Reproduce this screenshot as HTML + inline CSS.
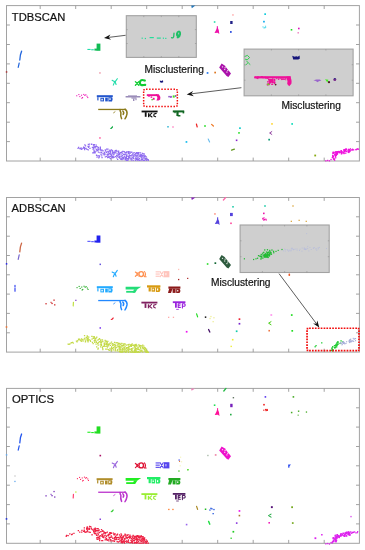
<!DOCTYPE html>
<html><head><meta charset="utf-8"><title>Clustering comparison</title>
<style>html,body{margin:0;padding:0;background:#fff}body{width:365px;height:550px;overflow:hidden}svg{display:block}text{font-family:"Liberation Sans",sans-serif;fill:#111;stroke:#111;stroke-width:.2px}</style>
</head><body>
<svg width="365" height="550" viewBox="0 0 365 550">
<rect width="365" height="550" fill="#fff"/>
<rect x="6.5" y="5.6" width="352.9" height="155.4" fill="#fff" stroke="#a2a2a2" stroke-width="1"/>
<path d="M40.2 5.6v3.4M40.2 161v-3.4M75.7 5.6v3.4M75.7 161v-3.4M111.2 5.6v3.4M111.2 161v-3.4M146.7 5.6v3.4M146.7 161v-3.4M182.2 5.6v3.4M182.2 161v-3.4M217.7 5.6v3.4M217.7 161v-3.4M253.2 5.6v3.4M253.2 161v-3.4M288.7 5.6v3.4M288.7 161v-3.4M324.2 5.6v3.4M324.2 161v-3.4M6.5 25h3.4M359.4 25h-3.4M6.5 44.5h3.4M359.4 44.5h-3.4M6.5 63.9h3.4M359.4 63.9h-3.4M6.5 83.3h3.4M359.4 83.3h-3.4M6.5 102.7h3.4M359.4 102.7h-3.4M6.5 122.2h3.4M359.4 122.2h-3.4M6.5 141.6h3.4M359.4 141.6h-3.4" stroke="#999" stroke-width="0.9" fill="none"/>
<path d="M21.6 51.2 L20.4 55 L19.8 60" fill="none" stroke="#2266dd" stroke-width="1.3" stroke-linecap="round" stroke-linejoin="round"/>
<path d="M19.2 63 L18.2 67.4" fill="none" stroke="#2266dd" stroke-width="1.2" stroke-linecap="round" stroke-linejoin="round"/>
<rect x="96.6" y="43.6" width="3.8" height="7.2" fill="#11bb55"/>
<rect x="94.4" y="48.6" width="2.6" height="2" fill="#11bb55"/>
<rect x="87.4" y="48.9" width="3.2" height="1.1" fill="#22ddaa"/>
<rect x="91.2" y="49.2" width="2.6" height="1.1" fill="#22ddaa"/>
<rect x="5.8" y="71.2" width="1.5" height="1.5" fill="#aa3333"/>
<rect x="99.2" y="72.2" width="1.5" height="1.5" fill="#ee99aa"/>
<path d="M112.1 80.3 L115.1 81.9 L117.3 78.7M113.3 85.1 L114.9 81.3 L116.1 84.5" fill="none" stroke="#22ddaa" stroke-width="1.1" stroke-linecap="round" stroke-linejoin="round"/>
<rect x="76.2" y="95.2" width="1.1" height="1.1" fill="#ee22bb"/>
<rect x="78.3" y="94" width="1.1" height="1.1" fill="#ee22bb"/>
<rect x="79.3" y="96" width="1.1" height="1.1" fill="#ee22bb"/>
<rect x="81" y="94.7" width="1.1" height="1.1" fill="#ee22bb"/>
<rect x="82" y="97" width="1.1" height="1.1" fill="#ee22bb"/>
<rect x="83.2" y="93.9" width="1.1" height="1.1" fill="#ee22bb"/>
<rect x="84.3" y="94.9" width="1.1" height="1.1" fill="#ee22bb"/>
<rect x="85.3" y="94.2" width="1.1" height="1.1" fill="#ee22bb"/>
<rect x="86.5" y="95.7" width="1.1" height="1.1" fill="#ee22bb"/>
<rect x="87.2" y="97" width="1.1" height="1.1" fill="#ee22bb"/>
<rect x="81.3" y="97.7" width="1.1" height="1.1" fill="#ee22bb"/>
<rect x="96.8" y="95.2" width="16" height="2" fill="#2255cc"/>
<rect x="97.3" y="97.2" width="1.2" height="3.2" fill="#2255cc"/>
<rect x="100.4" y="97.8" width="3.6" height="3.6" fill="#2255cc"/>
<rect x="101.4" y="98.8" width="1.4" height="1.6" fill="#fff"/>
<rect x="105.2" y="97.6" width="2.6" height="3.8" fill="#2255cc"/>
<path d="M108.4 97.2h3.6q1.6 2 0 4.2h-3.6z" fill="#2255cc"/>
<rect x="109.4" y="98.2" width="1.2" height="1.8" fill="#fff"/>
<rect x="125.6" y="96" width="14.8" height="1.5" fill="#9a8cb8"/>
<rect x="128" y="95.4" width="9" height="0.8" fill="#9a8cb8"/>
<rect x="131.4" y="97.4" width="5" height="1.2" fill="#9a8cb8"/>
<rect x="133" y="98.6" width="1.4" height="2.4" fill="#9a8cb8"/>
<rect x="135.4" y="98.4" width="1.2" height="1.8" fill="#9a8cb8"/>
<rect x="146.8" y="94.2" width="10.6" height="1.9" fill="#ee1199"/>
<path d="M155.6 94.2h3.2q2.2 2.4 1.4 5.2l-1.6 1.2h-2.2l0.8-1.8q0.6-1.6-0.6-2.8z" fill="#ee1199"/>
<rect x="150.6" y="96.4" width="1.6" height="1.4" fill="#ee1199"/>
<rect x="152.8" y="97.8" width="1.8" height="2" fill="#ee1199"/>
<rect x="148.4" y="96" width="1.2" height="1" fill="#ee1199"/>
<rect x="151.4" y="99" width="1.5" height="1.3" fill="#55cc22"/>
<rect x="168.2" y="95.9" width="3.8" height="1.5" fill="#9966cc"/>
<rect x="170" y="97" width="1.6" height="0.9" fill="#9966cc"/>
<rect x="172.7" y="95.4" width="2" height="2.2" fill="#44dd22"/>
<rect x="175" y="95.3" width="1.4" height="1.4" fill="#553388"/>
<path d="M135.4 81.6l3.4 3.6M135.4 85.2l3.4-3.6" fill="none" stroke="#11cc33" stroke-width="1.3" stroke-linecap="round" stroke-linejoin="round"/>
<path d="M144.8 80.6q-4.6-1.8-5 2q0.2 3.6 5.4 2.2" fill="none" stroke="#11cc33" stroke-width="2.2" stroke-linecap="round" stroke-linejoin="round"/>
<rect x="143.6" y="84.2" width="2.2" height="1.8" fill="#11cc33"/>
<path d="M159.8 80.4l1.6 0.6 1.6-0.8 0.2 2-1.6 0.6-1.6-0.6z" fill="#15157a"/>
<rect x="98.2" y="108.8" width="27.8" height="1.3" fill="#8b7a1a"/>
<path d="M113.6 112.8 L115 111.8" fill="none" stroke="#8b7a1a" stroke-width="0.8" stroke-linecap="round" stroke-linejoin="round"/>
<path d="M120 109.6q0 1.6 0.9 3q-0.6 3.4 0.7 6M125 109.2q2.4 1.6 2 4.6q-0.6 3.2-2 5M122.8 111q1.6 1.4 0.4 3.4" fill="none" stroke="#8b7a1a" stroke-width="1.5" stroke-linecap="round" stroke-linejoin="round"/>
<rect x="141.6" y="110.6" width="16" height="1.8" fill="#111111"/>
<rect x="144.8" y="112.2" width="1.8" height="4.6" fill="#111111"/>
<rect x="148" y="113.2" width="1.4" height="4" fill="#111111"/>
<path d="M151.8 113.2 L149.6 115.2 L152 117" fill="none" stroke="#111111" stroke-width="1.1" stroke-linecap="round" stroke-linejoin="round"/>
<path d="M156.2 113.4 L154 114 L153.8 116 L155.6 116.8" fill="none" stroke="#111111" stroke-width="1.1" stroke-linecap="round" stroke-linejoin="round"/>
<rect x="172.8" y="110.4" width="11.4" height="2" fill="#116622"/>
<rect x="182.6" y="111.4" width="1.6" height="2" fill="#116622"/>
<rect x="176.4" y="112" width="2.2" height="4" fill="#116622"/>
<rect x="177.6" y="115" width="2.8" height="1.5" fill="#116622"/>
<rect x="174.4" y="112" width="1.2" height="1.2" fill="#116622"/>
<path d="M221.6 63.6 L224.6 65.4 L231 73.4 L228.4 77 L226.6 76 L219.2 67.6z" fill="#aa11aa"/>
<rect x="221.9" y="66.3" width="1.2" height="1.2" fill="#fff" fill-opacity="0.8"/>
<rect x="224.1" y="68.9" width="1.2" height="1.2" fill="#fff" fill-opacity="0.8"/>
<rect x="226.3" y="71.5" width="1.2" height="1.2" fill="#fff" fill-opacity="0.8"/>
<rect x="224.5" y="67.1" width="1.2" height="1.2" fill="#fff" fill-opacity="0.8"/>
<rect x="227.1" y="69.9" width="1.2" height="1.2" fill="#fff" fill-opacity="0.8"/>
<rect x="206.7" y="72.1" width="1.7" height="1.7" fill="#2277ee"/>
<rect x="214.3" y="71.7" width="1.7" height="1.7" fill="#dd7722"/>
<path d="M191.2 5.6h4.2l-3.6 2.6z" fill="#2277bb"/>
<rect x="232.2" y="14.2" width="1.5" height="1.5" fill="#ffaaaa"/>
<rect x="213.8" y="21.2" width="1.6" height="1.6" fill="#22ddaa"/>
<path d="M217.3 26.6l1.5 3.6 0.5 3.8-1.7-1.3-3.1 0.3 1.7-3.2z" fill="#ee11aa"/>
<rect x="216.8" y="26.2" width="1.1" height="1.6" fill="#ee11aa"/>
<rect x="230.2" y="21" width="2.4" height="3" fill="#222288"/>
<rect x="230" y="31.1" width="1.7" height="1.7" fill="#2244dd"/>
<rect x="264.3" y="13.3" width="1.7" height="1.7" fill="#11ccdd"/>
<rect x="263.1" y="20.8" width="1.7" height="1.7" fill="#11aaee"/>
<rect x="264.2" y="27" width="1.2" height="1.2" fill="#66ddee"/>
<rect x="264.9" y="25.7" width="1.2" height="1.2" fill="#66ddee"/>
<rect x="262.4" y="26.3" width="1.2" height="1.2" fill="#66ddee"/>
<rect x="263.4" y="27.3" width="1.2" height="1.2" fill="#66ddee"/>
<rect x="265" y="26.8" width="1.2" height="1.2" fill="#66ddee"/>
<rect x="264.5" y="27" width="1.2" height="1.2" fill="#66ddee"/>
<rect x="290.7" y="29" width="1.6" height="1.6" fill="#22dd22"/>
<rect x="298" y="27.7" width="1.6" height="1.6" fill="#dd11bb"/>
<rect x="297.5" y="32.1" width="1.4" height="1.4" fill="#ee77bb"/>
<path d="M109.8 128.8l3-3 0.2 1.8-1.6 1.4z" fill="#11aa44"/>
<rect x="99.2" y="137.2" width="1.5" height="1.5" fill="#ff5599"/>
<rect x="167.3" y="126.1" width="1.4" height="1.4" fill="#11aacc"/>
<rect x="172.3" y="126.3" width="1.4" height="1.4" fill="#ff77bb"/>
<path d="M196.4 124 L197.2 127" fill="none" stroke="#ee2222" stroke-width="1.2" stroke-linecap="round" stroke-linejoin="round"/>
<rect x="204.2" y="125.2" width="1.6" height="1.6" fill="#22dd22"/>
<path d="M211.6 124.4 L213.4 126" fill="none" stroke="#ee7722" stroke-width="1.2" stroke-linecap="round" stroke-linejoin="round"/>
<rect x="185.6" y="141.1" width="1.7" height="1.7" fill="#11bbee"/>
<path d="M208.2 139 L209.6 142" fill="none" stroke="#66bbee" stroke-width="1.1" stroke-linecap="round" stroke-linejoin="round"/>
<rect x="239.1" y="127.3" width="1.7" height="1.7" fill="#11cccc"/>
<rect x="238.2" y="132.1" width="1.6" height="1.6" fill="#22dd22"/>
<rect x="235.8" y="139.5" width="1.6" height="1.6" fill="#8822cc"/>
<path d="M231.6 150.2 L234.4 149.2" fill="none" stroke="#669922" stroke-width="1.3" stroke-linecap="round" stroke-linejoin="round"/>
<rect x="271.1" y="123" width="1.8" height="1.8" fill="#ffdd55"/>
<rect x="291.3" y="123.1" width="1.7" height="1.7" fill="#11ddbb"/>
<path d="M271.8 131.6 L269.6 133 L271.8 134.4" fill="none" stroke="#883399" stroke-width="0.9" stroke-linecap="round" stroke-linejoin="round"/>
<rect x="268.3" y="138.8" width="1.7" height="1.7" fill="#119977"/>
<rect x="314.3" y="154.6" width="1.8" height="1.8" fill="#88aa11"/>
<path d="M121.2 157.8h1.3v1.3h-1.3zM143.7 159.7h1.3v1.3h-1.3zM117.8 152h1.3v1.3h-1.3zM131.3 158.5h1.3v1.3h-1.3zM86.3 148.7h1.3v1.3h-1.3zM92.1 152.2h1.3v1.3h-1.3zM138.8 159.7h1.3v1.3h-1.3zM115.3 151.5h1.3v1.3h-1.3zM140.3 155.2h1.3v1.3h-1.3zM89 143.4h1.3v1.3h-1.3zM101.1 155.3h1.3v1.3h-1.3zM111.2 153.6h1.3v1.3h-1.3zM127 159.7h1.3v1.3h-1.3zM136.8 158.6h1.3v1.3h-1.3zM78 146.8h1.3v1.3h-1.3zM144.6 158.9h1.3v1.3h-1.3zM142.8 155.2h1.3v1.3h-1.3zM133.5 151.9h1.3v1.3h-1.3zM143.9 155.9h1.3v1.3h-1.3zM120.4 153.4h1.3v1.3h-1.3zM99.7 146.6h1.3v1.3h-1.3zM147.5 159.1h1.3v1.3h-1.3zM135.5 155.4h1.3v1.3h-1.3zM98.1 157.3h1.3v1.3h-1.3zM137.3 155.8h1.3v1.3h-1.3zM97.8 146.9h1.3v1.3h-1.3zM144.9 157.7h1.3v1.3h-1.3zM101.2 149.2h1.3v1.3h-1.3zM132.4 154.7h1.3v1.3h-1.3zM132.7 157.6h1.3v1.3h-1.3zM124.1 154h1.3v1.3h-1.3zM126.9 155.4h1.3v1.3h-1.3zM131.5 154h1.3v1.3h-1.3zM143.9 157.5h1.3v1.3h-1.3zM122.9 153.7h1.3v1.3h-1.3zM122.7 158.2h1.3v1.3h-1.3zM128 152.6h1.3v1.3h-1.3zM107 155.2h1.3v1.3h-1.3zM122.2 150.7h1.3v1.3h-1.3zM123.1 156.9h1.3v1.3h-1.3zM121.8 154.8h1.3v1.3h-1.3zM93.3 144.9h1.3v1.3h-1.3zM99.7 147.9h1.3v1.3h-1.3zM104.1 152.8h1.3v1.3h-1.3zM97 146.3h1.3v1.3h-1.3zM135.9 152.1h1.3v1.3h-1.3zM120.5 155.4h1.3v1.3h-1.3zM134.6 154.9h1.3v1.3h-1.3zM117 158.7h1.3v1.3h-1.3zM120.2 158.6h1.3v1.3h-1.3zM77.4 147.7h1.3v1.3h-1.3zM93.3 152.1h1.3v1.3h-1.3zM141.7 154.5h1.3v1.3h-1.3zM146.4 158.6h1.3v1.3h-1.3zM108.6 155.7h1.3v1.3h-1.3zM135.6 156.3h1.3v1.3h-1.3zM110.8 154.7h1.3v1.3h-1.3zM129.7 158.2h1.3v1.3h-1.3zM101 152h1.3v1.3h-1.3zM110 155.8h1.3v1.3h-1.3zM118.9 152.5h1.3v1.3h-1.3zM139.9 152.3h1.3v1.3h-1.3zM132.1 156.6h1.3v1.3h-1.3zM141.5 155.5h1.3v1.3h-1.3zM137.3 154.4h1.3v1.3h-1.3zM135.8 158.9h1.3v1.3h-1.3zM126.3 153.5h1.3v1.3h-1.3zM132.3 152.7h1.3v1.3h-1.3zM134.5 153.7h1.3v1.3h-1.3zM135 157.4h1.3v1.3h-1.3zM144.4 155.1h1.3v1.3h-1.3zM106.5 153.7h1.3v1.3h-1.3zM80.4 147.3h1.3v1.3h-1.3zM82.4 147.7h1.3v1.3h-1.3zM129.6 152.4h1.3v1.3h-1.3zM107.7 153.9h1.3v1.3h-1.3zM111.8 152.5h1.3v1.3h-1.3zM113 154.2h1.3v1.3h-1.3zM113.7 151.6h1.3v1.3h-1.3zM83.8 146.9h1.3v1.3h-1.3zM111.2 156.6h1.3v1.3h-1.3zM81.1 148.6h1.3v1.3h-1.3zM125.3 151.8h1.3v1.3h-1.3zM145.8 159.7h1.3v1.3h-1.3zM102.3 150.1h1.3v1.3h-1.3zM137.3 156.9h1.3v1.3h-1.3zM117.7 153.6h1.3v1.3h-1.3zM84.2 144.3h1.3v1.3h-1.3zM110.1 150.3h1.3v1.3h-1.3zM88.5 145.5h1.3v1.3h-1.3zM139.3 154.2h1.3v1.3h-1.3zM96.9 148.4h1.3v1.3h-1.3zM93.9 144h1.3v1.3h-1.3zM142.4 159.7h1.3v1.3h-1.3zM125.8 155.1h1.3v1.3h-1.3zM145.9 157.7h1.3v1.3h-1.3zM124.7 156.7h1.3v1.3h-1.3zM84 148.9h1.3v1.3h-1.3zM111.9 149.9h1.3v1.3h-1.3zM94.5 147.2h1.3v1.3h-1.3zM106 148.5h1.3v1.3h-1.3zM99.4 152h1.3v1.3h-1.3zM92.4 148.4h1.3v1.3h-1.3zM121.4 158.9h1.3v1.3h-1.3zM99 155.3h1.3v1.3h-1.3zM93.1 146.4h1.3v1.3h-1.3zM135 152.8h1.3v1.3h-1.3zM118 150.6h1.3v1.3h-1.3zM116.5 155.7h1.3v1.3h-1.3zM130.8 155.3h1.3v1.3h-1.3zM134.9 159.7h1.3v1.3h-1.3zM128.6 153.5h1.3v1.3h-1.3zM131.1 151.6h1.3v1.3h-1.3zM114.7 155.9h1.3v1.3h-1.3zM133.3 154.3h1.3v1.3h-1.3zM119.3 157.8h1.3v1.3h-1.3zM106.9 157h1.3v1.3h-1.3zM105 150.3h1.3v1.3h-1.3zM94.4 145.9h1.3v1.3h-1.3zM120.9 151.6h1.3v1.3h-1.3zM89.3 147.7h1.3v1.3h-1.3zM140.7 158.7h1.3v1.3h-1.3zM138.1 158.7h1.3v1.3h-1.3zM118.7 153.7h1.3v1.3h-1.3zM99.7 149.3h1.3v1.3h-1.3zM104.3 153.9h1.3v1.3h-1.3zM124.5 158.1h1.3v1.3h-1.3zM125.2 153.4h1.3v1.3h-1.3zM118.2 156.6h1.3v1.3h-1.3zM124.5 159h1.3v1.3h-1.3zM125.8 157.6h1.3v1.3h-1.3zM140.4 159.7h1.3v1.3h-1.3zM115.6 149.8h1.3v1.3h-1.3zM140.7 157.2h1.3v1.3h-1.3zM116.3 153.2h1.3v1.3h-1.3zM128.6 155h1.3v1.3h-1.3zM114.6 152.3h1.3v1.3h-1.3zM145.4 156h1.3v1.3h-1.3zM119.8 152h1.3v1.3h-1.3zM119.2 156.6h1.3v1.3h-1.3zM136.1 154.5h1.3v1.3h-1.3zM137.2 159.7h1.3v1.3h-1.3zM136.5 152.7h1.3v1.3h-1.3zM91 143.6h1.3v1.3h-1.3zM129.7 154.9h1.3v1.3h-1.3zM112.2 157.3h1.3v1.3h-1.3zM112.5 156.1h1.3v1.3h-1.3zM134.4 158.3h1.3v1.3h-1.3zM109.6 153.6h1.3v1.3h-1.3zM108 156.6h1.3v1.3h-1.3zM147.7 159.7h1.3v1.3h-1.3zM124.3 152.2h1.3v1.3h-1.3zM109.6 152.3h1.3v1.3h-1.3zM140.5 153.9h1.3v1.3h-1.3zM143.4 154.2h1.3v1.3h-1.3zM103.7 151.8h1.3v1.3h-1.3zM117.4 154.9h1.3v1.3h-1.3zM127 158h1.3v1.3h-1.3zM133.2 155.9h1.3v1.3h-1.3zM109 157.2h1.3v1.3h-1.3zM98.6 156.5h1.3v1.3h-1.3zM142.4 156.8h1.3v1.3h-1.3zM112.1 151.2h1.3v1.3h-1.3zM109.3 149.6h1.3v1.3h-1.3zM101.4 157h1.3v1.3h-1.3zM95.9 154.6h1.3v1.3h-1.3zM121.4 156.2h1.3v1.3h-1.3zM94.6 151.3h1.3v1.3h-1.3zM129.4 151.2h1.3v1.3h-1.3zM128.1 156.9h1.3v1.3h-1.3zM95.6 144.4h1.3v1.3h-1.3zM130.7 159.5h1.3v1.3h-1.3zM91.8 146.8h1.3v1.3h-1.3zM125.7 156.1h1.3v1.3h-1.3zM84.9 145.3h1.3v1.3h-1.3zM95.7 148.7h1.3v1.3h-1.3zM97.8 151.4h1.3v1.3h-1.3zM142 158.8h1.3v1.3h-1.3zM114.6 150.1h1.3v1.3h-1.3zM126.3 151.8h1.3v1.3h-1.3zM128.1 158h1.3v1.3h-1.3zM139.1 155.6h1.3v1.3h-1.3zM112.8 152.1h1.3v1.3h-1.3zM129.1 156.6h1.3v1.3h-1.3zM130.7 157.5h1.3v1.3h-1.3zM110.9 149.3h1.3v1.3h-1.3zM136.1 157.9h1.3v1.3h-1.3zM137.3 152.1h1.3v1.3h-1.3zM92.9 147.4h1.3v1.3h-1.3zM104.7 156.2h1.3v1.3h-1.3zM105.7 151.6h1.3v1.3h-1.3zM125.4 158.8h1.3v1.3h-1.3zM100.4 153.7h1.3v1.3h-1.3zM107.3 148.4h1.3v1.3h-1.3zM116.1 157.3h1.3v1.3h-1.3zM83 146.4h1.3v1.3h-1.3zM93.5 150.8h1.3v1.3h-1.3zM106 155.7h1.3v1.3h-1.3zM141.8 152.7h1.3v1.3h-1.3zM113.5 153.3h1.3v1.3h-1.3zM97.9 149.3h1.3v1.3h-1.3zM97.5 155.1h1.3v1.3h-1.3zM107.4 152.3h1.3v1.3h-1.3zM80.3 148.2h1.3v1.3h-1.3zM113.3 156.7h1.3v1.3h-1.3zM137.7 153.1h1.3v1.3h-1.3zM96.9 150h1.3v1.3h-1.3zM128 151.1h1.3v1.3h-1.3zM95.7 146h1.3v1.3h-1.3zM111.6 155.5h1.3v1.3h-1.3zM87.9 146.8h1.3v1.3h-1.3zM93.4 149.5h1.3v1.3h-1.3zM138.7 157.8h1.3v1.3h-1.3zM108.8 150.4h1.3v1.3h-1.3zM98.1 148.5h1.3v1.3h-1.3zM108.5 153h1.3v1.3h-1.3zM128.1 155.9h1.3v1.3h-1.3zM122.2 157.1h1.3v1.3h-1.3zM123.6 151h1.3v1.3h-1.3zM100.5 150.1h1.3v1.3h-1.3zM107.2 150.7h1.3v1.3h-1.3zM116.4 150.6h1.3v1.3h-1.3zM87.7 143.7h1.3v1.3h-1.3zM127.5 159.1h1.3v1.3h-1.3zM143.3 152.9h1.3v1.3h-1.3zM140.4 156.2h1.3v1.3h-1.3zM132.5 159.7h1.3v1.3h-1.3zM84 147.8h1.3v1.3h-1.3zM92.8 144.1h1.3v1.3h-1.3zM79.2 148h1.3v1.3h-1.3zM102.5 153.1h1.3v1.3h-1.3zM123.6 155.8h1.3v1.3h-1.3zM115.9 154.9h1.3v1.3h-1.3zM85.4 147.8h1.3v1.3h-1.3zM126.4 150.9h1.3v1.3h-1.3zM118.9 155.6h1.3v1.3h-1.3zM108 151.2h1.3v1.3h-1.3zM104.6 149.3h1.3v1.3h-1.3zM87.6 149.2h1.3v1.3h-1.3zM94.4 152.2h1.3v1.3h-1.3zM138.3 152.1h1.3v1.3h-1.3zM96.4 156.5h1.3v1.3h-1.3zM110 158h1.3v1.3h-1.3zM87.4 145.8h1.3v1.3h-1.3zM110 151.3h1.3v1.3h-1.3zM125.7 159.7h1.3v1.3h-1.3zM121.8 152.4h1.3v1.3h-1.3zM142.3 157.8h1.3v1.3h-1.3zM95.7 150.3h1.3v1.3h-1.3zM103.5 154.3h1.3v1.3h-1.3z" fill="#8f6cf0"/>
<rect x="325.2" y="160.2" width="1.3" height="1.3" fill="#ee11dd"/>
<rect x="328.8" y="160.2" width="1.3" height="1.3" fill="#ee11dd"/>
<rect x="327" y="159.8" width="1.3" height="1.3" fill="#ee11dd"/>
<rect x="330.4" y="158.9" width="1.3" height="1.3" fill="#ee11dd"/>
<rect x="333.6" y="152.1" width="1.3" height="1.3" fill="#ee11dd"/>
<rect x="335.1" y="151.4" width="1.3" height="1.3" fill="#ee11dd"/>
<rect x="334.3" y="154.1" width="1.3" height="1.3" fill="#ee11dd"/>
<rect x="332" y="155.4" width="1.3" height="1.3" fill="#ee11dd"/>
<rect x="332" y="154.7" width="1.3" height="1.3" fill="#ee11dd"/>
<rect x="332.5" y="151.6" width="1.3" height="1.3" fill="#ee11dd"/>
<rect x="333.3" y="158.4" width="1.3" height="1.3" fill="#ee11dd"/>
<rect x="332.6" y="152.8" width="1.3" height="1.3" fill="#ee11dd"/>
<rect x="334" y="159.5" width="1.3" height="1.3" fill="#ee11dd"/>
<rect x="334.4" y="154.4" width="1.3" height="1.3" fill="#ee11dd"/>
<rect x="336.5" y="151.2" width="1.3" height="1.3" fill="#ee11dd"/>
<rect x="335.8" y="153.4" width="1.3" height="1.3" fill="#ee11dd"/>
<rect x="332.8" y="151.8" width="1.3" height="1.3" fill="#ee11dd"/>
<rect x="332.8" y="158.3" width="1.3" height="1.3" fill="#ee11dd"/>
<rect x="332.5" y="156.1" width="1.3" height="1.3" fill="#ee11dd"/>
<rect x="334.7" y="154.2" width="1.3" height="1.3" fill="#ee11dd"/>
<rect x="334.6" y="151.3" width="1.3" height="1.3" fill="#ee11dd"/>
<rect x="332.3" y="152.6" width="1.3" height="1.3" fill="#ee11dd"/>
<rect x="334.8" y="154.7" width="1.3" height="1.3" fill="#ee11dd"/>
<rect x="333" y="156.1" width="1.3" height="1.3" fill="#ee11dd"/>
<rect x="334" y="153.5" width="1.3" height="1.3" fill="#ee11dd"/>
<rect x="335" y="157.2" width="1.3" height="1.3" fill="#ee11dd"/>
<rect x="332.7" y="156" width="1.3" height="1.3" fill="#ee11dd"/>
<rect x="333.6" y="158.8" width="1.3" height="1.3" fill="#ee11dd"/>
<rect x="335.2" y="153.4" width="1.3" height="1.3" fill="#ee11dd"/>
<rect x="336.5" y="151.8" width="1.3" height="1.3" fill="#ee11dd"/>
<rect x="333.3" y="157.7" width="1.3" height="1.3" fill="#ee11dd"/>
<rect x="332.4" y="155.2" width="1.3" height="1.3" fill="#ee11dd"/>
<rect x="331.7" y="156.9" width="1.3" height="1.3" fill="#ee11dd"/>
<rect x="335" y="156" width="1.3" height="1.3" fill="#ee11dd"/>
<rect x="348.5" y="149.1" width="1.3" height="1.3" fill="#ee11dd"/>
<rect x="345.8" y="150.8" width="1.3" height="1.3" fill="#ee11dd"/>
<rect x="344" y="150.7" width="1.3" height="1.3" fill="#ee11dd"/>
<rect x="347.9" y="151.6" width="1.3" height="1.3" fill="#ee11dd"/>
<rect x="342.5" y="151.9" width="1.3" height="1.3" fill="#ee11dd"/>
<rect x="336.3" y="153.5" width="1.3" height="1.3" fill="#ee11dd"/>
<rect x="345.1" y="152.5" width="1.3" height="1.3" fill="#ee11dd"/>
<rect x="347.7" y="149.2" width="1.3" height="1.3" fill="#ee11dd"/>
<rect x="341.1" y="152.2" width="1.3" height="1.3" fill="#ee11dd"/>
<rect x="335.7" y="152.7" width="1.3" height="1.3" fill="#ee11dd"/>
<rect x="337.9" y="150.9" width="1.3" height="1.3" fill="#ee11dd"/>
<rect x="336.2" y="153.8" width="1.3" height="1.3" fill="#ee11dd"/>
<rect x="337.3" y="151.5" width="1.3" height="1.3" fill="#ee11dd"/>
<rect x="341.2" y="153" width="1.3" height="1.3" fill="#ee11dd"/>
<rect x="336.6" y="152.5" width="1.3" height="1.3" fill="#ee11dd"/>
<rect x="343.6" y="152.4" width="1.3" height="1.3" fill="#ee11dd"/>
<rect x="347.6" y="151.4" width="1.3" height="1.3" fill="#ee11dd"/>
<rect x="339.5" y="151.6" width="1.3" height="1.3" fill="#ee11dd"/>
<rect x="340.7" y="153.1" width="1.3" height="1.3" fill="#ee11dd"/>
<rect x="349.7" y="148.2" width="1.3" height="1.3" fill="#ee11dd"/>
<rect x="338" y="151.3" width="1.3" height="1.3" fill="#ee11dd"/>
<rect x="338.9" y="152.1" width="1.3" height="1.3" fill="#ee11dd"/>
<rect x="344.2" y="149.9" width="1.3" height="1.3" fill="#ee11dd"/>
<rect x="335.4" y="152.6" width="1.3" height="1.3" fill="#ee11dd"/>
<rect x="340.9" y="151.9" width="1.3" height="1.3" fill="#ee11dd"/>
<rect x="349.6" y="150.2" width="1.3" height="1.3" fill="#ee11dd"/>
<rect x="343.1" y="151.5" width="1.3" height="1.3" fill="#ee11dd"/>
<rect x="345.5" y="148.8" width="1.3" height="1.3" fill="#ee11dd"/>
<rect x="348.8" y="150.8" width="1.3" height="1.3" fill="#ee11dd"/>
<rect x="348.5" y="150.9" width="1.3" height="1.3" fill="#ee11dd"/>
<rect x="341.2" y="151.2" width="1.3" height="1.3" fill="#ee11dd"/>
<rect x="336.9" y="153.1" width="1.3" height="1.3" fill="#ee11dd"/>
<rect x="336.3" y="151.1" width="1.3" height="1.3" fill="#ee11dd"/>
<rect x="338.5" y="150.9" width="1.3" height="1.3" fill="#ee11dd"/>
<rect x="340.5" y="150" width="1.3" height="1.3" fill="#ee11dd"/>
<rect x="335.4" y="151.6" width="1.3" height="1.3" fill="#ee11dd"/>
<rect x="336.9" y="152.1" width="1.3" height="1.3" fill="#ee11dd"/>
<rect x="335.7" y="154.3" width="1.3" height="1.3" fill="#ee11dd"/>
<rect x="344.6" y="149.4" width="1.3" height="1.3" fill="#ee11dd"/>
<rect x="339.1" y="151.5" width="1.3" height="1.3" fill="#ee11dd"/>
<rect x="340.8" y="150.2" width="1.3" height="1.3" fill="#ee11dd"/>
<rect x="348.1" y="151.8" width="1.3" height="1.3" fill="#ee11dd"/>
<rect x="342.3" y="151.2" width="1.3" height="1.3" fill="#ee11dd"/>
<rect x="336.6" y="151.1" width="1.3" height="1.3" fill="#ee11dd"/>
<rect x="340.5" y="150.8" width="1.3" height="1.3" fill="#ee11dd"/>
<rect x="347.8" y="148.7" width="1.3" height="1.3" fill="#ee11dd"/>
<rect x="335.7" y="154.6" width="1.3" height="1.3" fill="#ee11dd"/>
<rect x="343.3" y="149.7" width="1.3" height="1.3" fill="#ee11dd"/>
<rect x="343.5" y="149.2" width="1.3" height="1.3" fill="#ee11dd"/>
<rect x="343.3" y="152.9" width="1.3" height="1.3" fill="#ee11dd"/>
<rect x="348.3" y="150.6" width="1.3" height="1.3" fill="#ee11dd"/>
<rect x="339.3" y="151.5" width="1.3" height="1.3" fill="#ee11dd"/>
<rect x="344.4" y="150.3" width="1.3" height="1.3" fill="#ee11dd"/>
<rect x="346.5" y="150.3" width="1.3" height="1.3" fill="#ee11dd"/>
<rect x="345.3" y="148.8" width="1.3" height="1.3" fill="#ee11dd"/>
<rect x="348.2" y="150.8" width="1.3" height="1.3" fill="#ee11dd"/>
<rect x="348.5" y="150.3" width="1.3" height="1.3" fill="#ee11dd"/>
<rect x="348.3" y="150.2" width="1.3" height="1.3" fill="#ee11dd"/>
<rect x="344.7" y="149.6" width="1.3" height="1.3" fill="#ee11dd"/>
<rect x="345.5" y="148.3" width="1.3" height="1.3" fill="#ee11dd"/>
<rect x="343.5" y="149" width="1.3" height="1.3" fill="#ee11dd"/>
<rect x="344.9" y="150.1" width="1.3" height="1.3" fill="#ee11dd"/>
<rect x="349.1" y="149.4" width="1.3" height="1.3" fill="#ee11dd"/>
<rect x="349" y="150.8" width="1.3" height="1.3" fill="#ee11dd"/>
<rect x="349.1" y="149.2" width="1.3" height="1.3" fill="#ee11dd"/>
<rect x="344.7" y="148.8" width="1.3" height="1.3" fill="#ee11dd"/>
<rect x="351.9" y="148.6" width="1.3" height="1.3" fill="#ee11dd"/>
<rect x="355.3" y="149" width="1.3" height="1.3" fill="#ee11dd"/>
<rect x="357.1" y="148.3" width="1.3" height="1.3" fill="#ee11dd"/>
<rect x="355.6" y="148.9" width="1.3" height="1.3" fill="#ee11dd"/>
<rect x="351" y="149.3" width="1.3" height="1.3" fill="#ee11dd"/>
<rect x="357.6" y="148.6" width="1.3" height="1.3" fill="#ee11dd"/>
<rect x="356.4" y="148.4" width="1.3" height="1.3" fill="#ee11dd"/>
<rect x="351.8" y="149.3" width="1.3" height="1.3" fill="#ee11dd"/>
<rect x="353" y="149.2" width="1.3" height="1.3" fill="#ee11dd"/>
<rect x="126.3" y="15.7" width="70" height="41.7" fill="#cfcfcf" stroke="#a2a2a2" stroke-width="1.1"/>
<path d="M143.8 15.7v1.4M143.8 57.4v-1.4M161.3 15.7v1.4M161.3 57.4v-1.4M178.8 15.7v1.4M178.8 57.4v-1.4M126.3 29.6h1.4M196.3 29.6h-1.4M126.3 43.5h1.4M196.3 43.5h-1.4" stroke="#8f8f8f" stroke-width="0.6" fill="none"/>
<rect x="141.6" y="37.6" width="1.2" height="1.2" fill="#22dd99"/>
<rect x="144.8" y="37.9" width="1.2" height="1.2" fill="#22dd99"/>
<rect x="149.6" y="37" width="4.2" height="1.2" fill="#22dd99"/>
<rect x="156.8" y="37.5" width="4" height="1.2" fill="#22dd99"/>
<rect x="162.8" y="37.6" width="1.2" height="1.2" fill="#22dd99"/>
<rect x="165.2" y="37.8" width="1.2" height="1.2" fill="#22dd99"/>
<path d="M174 33.2L173.7 36.8Q173 38.4 171.5 37.7" fill="none" stroke="#1fbf66" stroke-width="1.3" stroke-linecap="round" stroke-linejoin="round"/>
<path d="M176 33.4q0.4-2.6 3-3q2.4 0.6 2 4.2q-0.4 3.2-3 3.8q-2-0.2-1.2-2q-1.2-1-0.8-3z" fill="#1fbf66"/>
<rect x="178" y="32.6" width="1.2" height="1.8" fill="#cfcfcf" fill-opacity="0.7"/>
<rect x="244.1" y="49.1" width="109" height="46.7" fill="#cfcfcf" stroke="#a2a2a2" stroke-width="1.1"/>
<path d="M271.4 49.1v1.4M271.4 95.8v-1.4M298.6 49.1v1.4M298.6 95.8v-1.4M325.9 49.1v1.4M325.9 95.8v-1.4M244.1 64.7h1.4M353.1 64.7h-1.4M244.1 80.2h1.4M353.1 80.2h-1.4" stroke="#8f8f8f" stroke-width="0.6" fill="none"/>
<rect x="254.4" y="76.2" width="36.4" height="2.2" fill="#ee1199"/>
<rect x="256.5" y="77.7" width="1.2" height="1.2" fill="#ee1199"/>
<rect x="262.5" y="77.1" width="1.2" height="1.2" fill="#ee1199"/>
<rect x="257.2" y="77.9" width="1.2" height="1.2" fill="#ee1199"/>
<rect x="264.7" y="77.2" width="1.2" height="1.2" fill="#ee1199"/>
<rect x="260.9" y="76.6" width="1.2" height="1.2" fill="#ee1199"/>
<rect x="254.4" y="76.9" width="1.2" height="1.2" fill="#ee1199"/>
<rect x="261.9" y="76.2" width="1.2" height="1.2" fill="#ee1199"/>
<rect x="264.6" y="76.6" width="1.2" height="1.2" fill="#ee1199"/>
<rect x="257.4" y="76.1" width="1.2" height="1.2" fill="#ee1199"/>
<rect x="267.2" y="77.8" width="1.2" height="1.2" fill="#ee1199"/>
<rect x="265.6" y="77.5" width="1.2" height="1.2" fill="#ee1199"/>
<rect x="254.8" y="76.8" width="1.2" height="1.2" fill="#ee1199"/>
<rect x="260.8" y="76.3" width="1.2" height="1.2" fill="#ee1199"/>
<rect x="266.6" y="76.9" width="1.2" height="1.2" fill="#ee1199"/>
<rect x="274" y="78.9" width="1.3" height="1.3" fill="#ee1199"/>
<rect x="266.8" y="84.1" width="1.3" height="1.3" fill="#ee1199"/>
<rect x="268" y="78.7" width="1.3" height="1.3" fill="#ee1199"/>
<rect x="271.6" y="80.1" width="1.3" height="1.3" fill="#ee1199"/>
<rect x="273.4" y="79.4" width="1.3" height="1.3" fill="#ee1199"/>
<rect x="274" y="79.9" width="1.3" height="1.3" fill="#ee1199"/>
<rect x="271.2" y="83.7" width="1.3" height="1.3" fill="#ee1199"/>
<rect x="271.9" y="83.6" width="1.3" height="1.3" fill="#ee1199"/>
<rect x="272.1" y="78.3" width="1.3" height="1.3" fill="#ee1199"/>
<rect x="273.4" y="81.6" width="1.3" height="1.3" fill="#ee1199"/>
<rect x="269" y="79.2" width="1.3" height="1.3" fill="#ee1199"/>
<rect x="273.1" y="81.6" width="1.3" height="1.3" fill="#ee1199"/>
<rect x="273.8" y="82.7" width="1.3" height="1.3" fill="#ee1199"/>
<rect x="274" y="81.5" width="1.3" height="1.3" fill="#ee1199"/>
<rect x="272" y="81.7" width="1.3" height="1.3" fill="#ee1199"/>
<rect x="268.6" y="83.8" width="1.3" height="1.3" fill="#ee1199"/>
<rect x="269" y="82.8" width="1.3" height="1.3" fill="#ee1199"/>
<rect x="274" y="82" width="1.3" height="1.3" fill="#ee1199"/>
<rect x="267.7" y="83" width="1.3" height="1.3" fill="#ee1199"/>
<rect x="271.7" y="79.1" width="1.3" height="1.3" fill="#ee1199"/>
<rect x="267" y="81.2" width="1.3" height="1.3" fill="#ee1199"/>
<rect x="266.8" y="83.6" width="1.3" height="1.3" fill="#ee1199"/>
<rect x="270.5" y="81.2" width="1.3" height="1.3" fill="#ee1199"/>
<rect x="269.8" y="82" width="1.3" height="1.3" fill="#ee1199"/>
<rect x="273.7" y="79.9" width="1.3" height="1.3" fill="#ee1199"/>
<rect x="269.5" y="81.6" width="1.3" height="1.3" fill="#ee1199"/>
<rect x="268.9" y="81.6" width="1.3" height="1.3" fill="#ee1199"/>
<rect x="270.8" y="80.6" width="1.3" height="1.3" fill="#ee1199"/>
<rect x="271.8" y="81.2" width="1.3" height="1.3" fill="#ee1199"/>
<rect x="267.3" y="84.1" width="1.3" height="1.3" fill="#ee1199"/>
<rect x="268.4" y="79" width="5" height="3.6" fill="#ee1199"/>
<path d="M286.6 76.4h3.2q2.4 2.6 1.6 7.4l-2.2 2.4l-2-2.2q1.2-2.6-0.6-5.2z" fill="#ee1199"/>
<rect x="285.2" y="79.2" width="1.1" height="1.1" fill="#ee1199"/>
<rect x="284.8" y="78.1" width="1.1" height="1.1" fill="#ee1199"/>
<rect x="281.9" y="78.6" width="1.1" height="1.1" fill="#ee1199"/>
<rect x="281.2" y="78.2" width="1.1" height="1.1" fill="#ee1199"/>
<rect x="277.9" y="78.6" width="1.1" height="1.1" fill="#ee1199"/>
<rect x="278.2" y="78.6" width="1.1" height="1.1" fill="#ee1199"/>
<rect x="276.2" y="78.1" width="1.1" height="1.1" fill="#ee1199"/>
<rect x="283" y="78.5" width="1.1" height="1.1" fill="#ee1199"/>
<rect x="281.1" y="79" width="1.1" height="1.1" fill="#ee1199"/>
<rect x="279.6" y="78.1" width="1.1" height="1.1" fill="#ee1199"/>
<rect x="283.8" y="78.8" width="1.1" height="1.1" fill="#ee1199"/>
<rect x="282.5" y="78.8" width="1.1" height="1.1" fill="#ee1199"/>
<rect x="267.2" y="83.6" width="2.2" height="1.6" fill="#66dd22"/>
<circle cx="275.6" cy="84.6" r="0.9" fill="#552222"/>
<path d="M292.2 55.8l2.6 1 1.4-0.6 1.6 0.6 1.8-1.4 0.2 3.4-1.6 0.8h-5z" fill="#15157a"/>
<path d="M245 56.4l2.4-1 2.2 2.2-2.4 2.2-1.8-0.6M246.6 61l1.8 2 1.6 1.4M247.4 63.4l-1.6 1.6" fill="none" stroke="#22cc44" stroke-width="0.9" stroke-linecap="round" stroke-linejoin="round"/>
<path d="M313.4 80.2l3-0.8 3.4 0.2 1.6 1-2.6 0.6-1.2 1-1.8-1.2z" fill="#9966cc"/>
<path d="M325 79.2l3.4 0.6-1 2.6z" fill="#44ee22"/>
<circle cx="329" cy="82.2" r="1.1" fill="#4a1a22"/>
<circle cx="334.8" cy="79.6" r="1.5" fill="#7a2a8a"/>
<rect x="334" y="78.2" width="1.6" height="1" fill="#223388"/>
<path d="M143.3 88.9h1.5v1.5h-1.5zM143.3 105.3h1.5v1.5h-1.5zM146 88.5h1.5v1.5h-1.5zM146 105.7h1.5v1.5h-1.5zM149.1 88.5h1.5v1.5h-1.5zM149.1 105.7h1.5v1.5h-1.5zM152.1 88.5h1.5v1.5h-1.5zM152.1 105.7h1.5v1.5h-1.5zM155.2 88.5h1.5v1.5h-1.5zM155.2 105.7h1.5v1.5h-1.5zM158.2 88.5h1.5v1.5h-1.5zM158.2 105.7h1.5v1.5h-1.5zM161.3 88.5h1.5v1.5h-1.5zM161.3 105.7h1.5v1.5h-1.5zM164.3 88.5h1.5v1.5h-1.5zM164.3 105.7h1.5v1.5h-1.5zM167.4 88.5h1.5v1.5h-1.5zM167.4 105.7h1.5v1.5h-1.5zM170.4 88.5h1.5v1.5h-1.5zM170.4 105.7h1.5v1.5h-1.5zM173.5 88.5h1.5v1.5h-1.5zM173.5 105.7h1.5v1.5h-1.5zM176.2 88.9h1.5v1.5h-1.5zM176.2 105.3h1.5v1.5h-1.5zM142.9 91.4h1.5v1.5h-1.5zM176.6 91.4h1.5v1.5h-1.5zM142.9 94.2h1.5v1.5h-1.5zM176.6 94.2h1.5v1.5h-1.5zM142.9 97.1h1.5v1.5h-1.5zM176.6 97.1h1.5v1.5h-1.5zM142.9 100h1.5v1.5h-1.5zM176.6 100h1.5v1.5h-1.5zM142.9 102.8h1.5v1.5h-1.5zM176.6 102.8h1.5v1.5h-1.5z" fill="#f20d0d"/>
<line x1="125.6" y1="35.3" x2="108.6" y2="37.4" stroke="#333" stroke-width="0.8"/>
<path d="M104 37.9 L110.4 34.5 L108.6 37.4 L111.1 39.7z" fill="#111"/>
<line x1="241.4" y1="87.7" x2="191.3" y2="93.8" stroke="#333" stroke-width="0.8"/>
<path d="M186.7 94.4 L193.1 91 L191.3 93.8 L193.8 96.2z" fill="#111"/>
<text x="11.8" y="21" font-size="11.2">TDBSCAN</text>
<text x="144.5" y="72.5" font-size="10.2">Misclustering</text>
<text x="281.5" y="108.9" font-size="10.2">Misclustering</text>
<rect x="6.5" y="197.5" width="352.9" height="154.6" fill="#fff" stroke="#a2a2a2" stroke-width="1"/>
<path d="M40.2 197.5v3.4M40.2 352.1v-3.4M75.7 197.5v3.4M75.7 352.1v-3.4M111.2 197.5v3.4M111.2 352.1v-3.4M146.7 197.5v3.4M146.7 352.1v-3.4M182.2 197.5v3.4M182.2 352.1v-3.4M217.7 197.5v3.4M217.7 352.1v-3.4M253.2 197.5v3.4M253.2 352.1v-3.4M288.7 197.5v3.4M288.7 352.1v-3.4M324.2 197.5v3.4M324.2 352.1v-3.4M6.5 216.8h3.4M359.4 216.8h-3.4M6.5 236.2h3.4M359.4 236.2h-3.4M6.5 255.5h3.4M359.4 255.5h-3.4M6.5 274.8h3.4M359.4 274.8h-3.4M6.5 294.1h3.4M359.4 294.1h-3.4M6.5 313.4h3.4M359.4 313.4h-3.4M6.5 332.8h3.4M359.4 332.8h-3.4" stroke="#999" stroke-width="0.9" fill="none"/>
<path d="M21.6 243.1 L20.4 246.9 L19.8 251.9" fill="none" stroke="#cc6644" stroke-width="1.3" stroke-linecap="round" stroke-linejoin="round"/>
<path d="M19.2 254.9 L18.2 259.3" fill="none" stroke="#7766cc" stroke-width="1.2" stroke-linecap="round" stroke-linejoin="round"/>
<rect x="96.6" y="235.5" width="3.8" height="7.2" fill="#2222ee"/>
<rect x="94.4" y="240.5" width="2.6" height="2" fill="#2222ee"/>
<rect x="87.4" y="240.8" width="3.2" height="1.1" fill="#5555ff"/>
<rect x="91.2" y="241.1" width="2.6" height="1.1" fill="#5555ff"/>
<rect x="5.8" y="263.1" width="1.5" height="1.5" fill="#2222ee"/>
<rect x="99.5" y="263.6" width="1.5" height="1.5" fill="#6655dd"/>
<path d="M112.1 272 L115.1 273.6 L117.3 270.4M113.3 276.8 L114.9 273 L116.1 276.2" fill="none" stroke="#22aaff" stroke-width="1.1" stroke-linecap="round" stroke-linejoin="round"/>
<path d="M15 285.3 L15 286.9M15 288.3 L15 291.3" fill="none" stroke="#2233ee" stroke-width="1.1" stroke-linecap="round" stroke-linejoin="round"/>
<rect x="45.4" y="303.1" width="1.3" height="1.3" fill="#cc2222"/>
<rect x="51.4" y="302.8" width="1.3" height="1.3" fill="#cc2222"/>
<rect x="53.4" y="299.5" width="1.3" height="1.3" fill="#cc2222"/>
<rect x="54.1" y="304.2" width="1.3" height="1.3" fill="#cc2222"/>
<rect x="50.5" y="301.8" width="1.1" height="1.1" fill="#cc2222"/>
<rect x="75.2" y="299.7" width="1.3" height="1.3" fill="#8844cc"/>
<path d="M73.4 302.3 L73.2 305.9" fill="none" stroke="#bbdd33" stroke-width="1.1" stroke-linecap="round" stroke-linejoin="round"/>
<rect x="5.7" y="326.2" width="1.6" height="1.6" fill="#ee7733"/>
<rect x="76.5" y="287.1" width="1.1" height="1.1" fill="#22aa22"/>
<rect x="78.6" y="285.9" width="1.1" height="1.1" fill="#22aa22"/>
<rect x="79.6" y="287.9" width="1.1" height="1.1" fill="#22aa22"/>
<rect x="81.2" y="286.5" width="1.1" height="1.1" fill="#22aa22"/>
<rect x="82.2" y="288.9" width="1.1" height="1.1" fill="#22aa22"/>
<rect x="83.5" y="285.7" width="1.1" height="1.1" fill="#22aa22"/>
<rect x="84.6" y="286.7" width="1.1" height="1.1" fill="#22aa22"/>
<rect x="85.6" y="286.1" width="1.1" height="1.1" fill="#22aa22"/>
<rect x="86.8" y="287.5" width="1.1" height="1.1" fill="#22aa22"/>
<rect x="87.5" y="288.9" width="1.1" height="1.1" fill="#22aa22"/>
<rect x="81.6" y="289.5" width="1.1" height="1.1" fill="#22aa22"/>
<rect x="96.8" y="286.2" width="16" height="2" fill="#22aaff"/>
<rect x="97.3" y="288.2" width="1.2" height="3.2" fill="#22aaff"/>
<rect x="100.4" y="288.8" width="3.6" height="3.6" fill="#22aaff"/>
<rect x="101.4" y="289.8" width="1.4" height="1.6" fill="#fff"/>
<rect x="105.2" y="288.6" width="2.6" height="3.8" fill="#22aaff"/>
<path d="M108.4 288.2h3.6q1.6 2 0 4.2h-3.6z" fill="#22aaff"/>
<rect x="109.4" y="289.2" width="1.2" height="1.8" fill="#fff"/>
<path d="M125.6 286.7h15.6l-4.2 2.8h-11.4z" fill="#22dd77"/>
<rect x="126.2" y="290.9" width="8.6" height="1.8" fill="#22dd77"/>
<path d="M134 289.3l3.4 0 -2.2 3.4 -2.6 0z" fill="#22dd77"/>
<rect x="147" y="285.3" width="13.4" height="2.2" fill="#d89a10"/>
<rect x="148.6" y="287.3" width="2.2" height="4.2" fill="#d89a10"/>
<rect x="151.6" y="287.5" width="3.6" height="4.2" fill="#d89a10"/>
<rect x="152.6" y="288.7" width="1.2" height="1.6" fill="#fff"/>
<path d="M156 287.3h3.4q2 2.2 0 4.6h-3.4z" fill="#d89a10"/>
<rect x="157" y="288.5" width="1.2" height="2" fill="#fff"/>
<rect x="168.4" y="286.5" width="12" height="2.2" fill="#8b1a1a"/>
<path d="M169.2 288.5h3.4l-1.6 4.6h-3z" fill="#8b1a1a"/>
<rect x="172.6" y="288.7" width="3" height="4.2" fill="#8b1a1a"/>
<path d="M176.2 288.7h3.2q2 2.2 0 4.4h-3.2z" fill="#8b1a1a"/>
<rect x="177.2" y="289.9" width="1.1" height="1.6" fill="#fff"/>
<path d="M135.4 272.1 L138 274.1 L135.4 276.3" fill="none" stroke="#ff9050" stroke-width="1.2" stroke-linecap="round" stroke-linejoin="round"/>
<path d="M138.2 272.3 L136.6 274.1 L138.2 276.1" fill="none" stroke="#ff9050" stroke-width="0.9" stroke-linecap="round" stroke-linejoin="round"/>
<ellipse cx="141.2" cy="274.1" rx="2.3" ry="2.5" fill="none" stroke="#ff9050" stroke-width="1.4"/>
<path d="M144.4 271.5q2.2 2.6 0 5.2h1.8" fill="none" stroke="#ff9050" stroke-width="1.1" stroke-linecap="round" stroke-linejoin="round"/>
<rect x="155.6" y="271.3" width="4.2" height="1.1" fill="#ffc4bc"/>
<rect x="155.6" y="273.5" width="4.2" height="1.1" fill="#ffc4bc"/>
<rect x="155.6" y="275.7" width="4.2" height="1.1" fill="#ffc4bc"/>
<path d="M160.2 271.7 L163.2 276.7M163.2 271.7 L160.2 276.7" fill="none" stroke="#ffc4bc" stroke-width="1.1" stroke-linecap="round" stroke-linejoin="round"/>
<rect x="163.8" y="271.1" width="5.6" height="6.2" fill="#ffc4bc"/>
<rect x="165.2" y="272.9" width="1.4" height="2.4" fill="#fff" fill-opacity="0.55"/>
<rect x="178" y="268.8" width="1.3" height="1.3" fill="#ffc4bc"/>
<rect x="178" y="278.9" width="1.3" height="1.3" fill="#aa2222"/>
<rect x="187.1" y="277.8" width="1.2" height="1.2" fill="#aa2222"/>
<rect x="98.2" y="299.9" width="27.8" height="1.3" fill="#2288ff"/>
<path d="M113.6 303.9 L115 302.9" fill="none" stroke="#2288ff" stroke-width="0.8" stroke-linecap="round" stroke-linejoin="round"/>
<path d="M120 300.7q0 1.6 0.9 3q-0.6 3.4 0.7 6M125 300.3q2.4 1.6 2 4.6q-0.6 3.2-2 5M122.8 302.1q1.6 1.4 0.4 3.4" fill="none" stroke="#2288ff" stroke-width="1.5" stroke-linecap="round" stroke-linejoin="round"/>
<rect x="141.4" y="301.7" width="16" height="1.8" fill="#802060"/>
<rect x="144.6" y="303.3" width="1.8" height="4.6" fill="#802060"/>
<rect x="147.8" y="304.3" width="1.4" height="4" fill="#802060"/>
<path d="M151.6 304.3 L149.4 306.3 L151.8 308.1" fill="none" stroke="#802060" stroke-width="1.1" stroke-linecap="round" stroke-linejoin="round"/>
<path d="M156 304.5 L153.8 305.1 L153.6 307.1 L155.4 307.9" fill="none" stroke="#802060" stroke-width="1.1" stroke-linecap="round" stroke-linejoin="round"/>
<rect x="172.8" y="301.3" width="12.6" height="1.8" fill="#9922dd"/>
<rect x="175" y="302.9" width="1.8" height="4.8" fill="#9922dd"/>
<path d="M180.2 303.9 L178.2 303.9 L178.2 307.5 L180.4 307.5M178.2 305.7h1.8" fill="none" stroke="#9922dd" stroke-width="1.1" stroke-linecap="round" stroke-linejoin="round"/>
<path d="M182.4 307.9v-4.2h2q1.6 1.2 0 2.6h-2" fill="none" stroke="#9922dd" stroke-width="1.1" stroke-linecap="round" stroke-linejoin="round"/>
<rect x="176.2" y="308.9" width="2.6" height="0.8" fill="#9922dd"/>
<path d="M221.6 255.1 L224.6 256.9 L231 264.9 L228.4 268.5 L226.6 267.5 L219.2 259.1z" fill="#2d5a3d"/>
<rect x="221.9" y="257.8" width="1.2" height="1.2" fill="#fff" fill-opacity="0.8"/>
<rect x="224.1" y="260.4" width="1.2" height="1.2" fill="#fff" fill-opacity="0.8"/>
<rect x="226.3" y="263" width="1.2" height="1.2" fill="#fff" fill-opacity="0.8"/>
<rect x="224.5" y="258.6" width="1.2" height="1.2" fill="#fff" fill-opacity="0.8"/>
<rect x="227.1" y="261.4" width="1.2" height="1.2" fill="#fff" fill-opacity="0.8"/>
<rect x="206.8" y="263.2" width="1.6" height="1.6" fill="#22dd22"/>
<rect x="214.5" y="262.3" width="1.7" height="1.7" fill="#116633"/>
<path d="M191.2 197.5h4.2l-3.6 2.6z" fill="#8822bb"/>
<path d="M225.6 197.6 L223.4 200" fill="none" stroke="#ff66aa" stroke-width="1.3" stroke-linecap="round" stroke-linejoin="round"/>
<rect x="232.2" y="206" width="1.6" height="1.6" fill="#22ccaa"/>
<rect x="214.2" y="213.2" width="1.5" height="1.5" fill="#ff8877"/>
<path d="M217.6 217.7l1.5 3.6 0.5 3.8-1.7-1.3-3.1 0.3 1.7-3.2z" fill="#5544dd"/>
<rect x="217.1" y="217.3" width="1.1" height="1.6" fill="#5544dd"/>
<rect x="230" y="212.9" width="2.8" height="3.2" fill="#5544dd"/>
<rect x="230.2" y="222.5" width="1.6" height="1.6" fill="#ff4499"/>
<rect x="264.2" y="205.2" width="1.6" height="1.6" fill="#22ccaa"/>
<rect x="263" y="212.6" width="1.6" height="1.6" fill="#ee11aa"/>
<rect x="262.3" y="217.8" width="1.2" height="1.2" fill="#ee11aa"/>
<rect x="263.2" y="219.5" width="1.2" height="1.2" fill="#ee11aa"/>
<rect x="263.9" y="219" width="1.2" height="1.2" fill="#ee11aa"/>
<rect x="262.4" y="218.5" width="1.2" height="1.2" fill="#ee11aa"/>
<rect x="265.2" y="218.6" width="1.2" height="1.2" fill="#ee11aa"/>
<rect x="265.6" y="219.4" width="1.2" height="1.2" fill="#ee11aa"/>
<rect x="263.4" y="217.3" width="1.2" height="1.2" fill="#ee11aa"/>
<rect x="292.3" y="205.3" width="1.4" height="1.4" fill="#ddaa44"/>
<rect x="290.7" y="220.7" width="1.3" height="1.3" fill="#ddaa44"/>
<rect x="298.5" y="219.7" width="1.3" height="1.3" fill="#ddaa44"/>
<rect x="305.6" y="220.7" width="1.3" height="1.3" fill="#ddaa44"/>
<path d="M110.4 319.9l3-3 0.2 1.8-1.6 1.4z" fill="#ee2233"/>
<rect x="99.5" y="327.2" width="1.5" height="1.5" fill="#7733ee"/>
<rect x="168" y="316.7" width="1.3" height="1.3" fill="#ffaaaa"/>
<rect x="172.8" y="316.7" width="1.3" height="1.3" fill="#ffaaaa"/>
<path d="M196.6 313.9 L197.6 316.9" fill="none" stroke="#22dd22" stroke-width="1.2" stroke-linecap="round" stroke-linejoin="round"/>
<rect x="204.8" y="316.4" width="1.5" height="1.5" fill="#111111"/>
<rect x="210.3" y="315.9" width="1.3" height="1.3" fill="#eeee99"/>
<rect x="213.3" y="317.1" width="1.3" height="1.3" fill="#eeee99"/>
<rect x="212.5" y="321" width="1.3" height="1.3" fill="#eeee99"/>
<rect x="209.4" y="317.9" width="1.3" height="1.3" fill="#eeee99"/>
<rect x="185.8" y="330.9" width="1.7" height="1.7" fill="#ee11ee"/>
<path d="M208.6 329.5 L209.8 332.1" fill="none" stroke="#441166" stroke-width="1.3" stroke-linecap="round" stroke-linejoin="round"/>
<rect x="238.6" y="318.3" width="1.7" height="1.7" fill="#ee2233"/>
<rect x="238.6" y="322.9" width="1.7" height="1.7" fill="#7722cc"/>
<rect x="235.8" y="330.4" width="1.7" height="1.7" fill="#11ccaa"/>
<rect x="231.9" y="338.9" width="1.6" height="1.6" fill="#eeee33"/>
<rect x="230.5" y="345.7" width="1.4" height="1.4" fill="#eeee33"/>
<rect x="270.4" y="314.1" width="1.8" height="1.8" fill="#ff99ee"/>
<path d="M271 321.7 L268.6 323.2 L271 324.7" fill="none" stroke="#44cc11" stroke-width="1" stroke-linecap="round" stroke-linejoin="round"/>
<rect x="268.4" y="329.9" width="1.6" height="1.6" fill="#ee7744"/>
<rect x="290.9" y="314.2" width="1.7" height="1.7" fill="#22dd22"/>
<rect x="291.4" y="330" width="1.7" height="1.7" fill="#22dd22"/>
<path d="M144.9 350.8h1.3v1.3h-1.3zM121.3 351.6h1.3v1.3h-1.3zM84.7 339.5h1.3v1.3h-1.3zM88.1 336.4h1.3v1.3h-1.3zM136 350.5h1.3v1.3h-1.3zM107.2 344.3h1.3v1.3h-1.3zM99.7 344.2h1.3v1.3h-1.3zM142 347.5h1.3v1.3h-1.3zM136.4 347.9h1.3v1.3h-1.3zM143.2 345.5h1.3v1.3h-1.3zM122.1 345h1.3v1.3h-1.3zM134.5 347.1h1.3v1.3h-1.3zM106.5 348.5h1.3v1.3h-1.3zM94.2 338.3h1.3v1.3h-1.3zM133.2 351.4h1.3v1.3h-1.3zM92.7 336.3h1.3v1.3h-1.3zM140.1 348h1.3v1.3h-1.3zM141.8 346.6h1.3v1.3h-1.3zM143.1 348.3h1.3v1.3h-1.3zM68.4 343.7h1.3v1.3h-1.3zM112.1 347.8h1.3v1.3h-1.3zM114 343.7h1.3v1.3h-1.3zM71.9 341.8h1.3v1.3h-1.3zM118.6 345.2h1.3v1.3h-1.3zM116.1 347h1.3v1.3h-1.3zM131.2 351.3h1.3v1.3h-1.3zM93.7 340.1h1.3v1.3h-1.3zM146.6 351.6h1.3v1.3h-1.3zM115 344.6h1.3v1.3h-1.3zM136.2 344.7h1.3v1.3h-1.3zM139 344.8h1.3v1.3h-1.3zM110.3 349.3h1.3v1.3h-1.3zM134.4 348.6h1.3v1.3h-1.3zM95.4 343.5h1.3v1.3h-1.3zM108 345.2h1.3v1.3h-1.3zM103.6 345.6h1.3v1.3h-1.3zM129.4 351h1.3v1.3h-1.3zM146.7 350.7h1.3v1.3h-1.3zM147.7 351.6h1.3v1.3h-1.3zM122.6 343.3h1.3v1.3h-1.3zM118.4 348.2h1.3v1.3h-1.3zM130.7 348h1.3v1.3h-1.3zM103.7 343.2h1.3v1.3h-1.3zM139.4 349.5h1.3v1.3h-1.3zM127.8 351.6h1.3v1.3h-1.3zM102.2 348.9h1.3v1.3h-1.3zM112.2 343.1h1.3v1.3h-1.3zM106.8 346.4h1.3v1.3h-1.3zM121.4 350.3h1.3v1.3h-1.3zM102.1 347.8h1.3v1.3h-1.3zM139.6 351.3h1.3v1.3h-1.3zM121.9 347.7h1.3v1.3h-1.3zM141.3 349.5h1.3v1.3h-1.3zM84.8 341.1h1.3v1.3h-1.3zM97.6 344.5h1.3v1.3h-1.3zM132.3 347.5h1.3v1.3h-1.3zM116.9 349.1h1.3v1.3h-1.3zM136.9 346.5h1.3v1.3h-1.3zM123.1 344.6h1.3v1.3h-1.3zM131.5 344.7h1.3v1.3h-1.3zM107.9 349h1.3v1.3h-1.3zM111.2 348.3h1.3v1.3h-1.3zM130.2 348.8h1.3v1.3h-1.3zM132.1 350.2h1.3v1.3h-1.3zM142.1 344.4h1.3v1.3h-1.3zM117.6 342.5h1.3v1.3h-1.3zM141.2 345.2h1.3v1.3h-1.3zM116.7 345.3h1.3v1.3h-1.3zM132.9 344.6h1.3v1.3h-1.3zM138.1 344.3h1.3v1.3h-1.3zM106.4 345.3h1.3v1.3h-1.3zM121.3 345.9h1.3v1.3h-1.3zM135.1 347.9h1.3v1.3h-1.3zM135.9 351.5h1.3v1.3h-1.3zM127.5 343.9h1.3v1.3h-1.3zM87.4 341.1h1.3v1.3h-1.3zM127.2 348.6h1.3v1.3h-1.3zM116.6 350.1h1.3v1.3h-1.3zM120.3 349h1.3v1.3h-1.3zM143 347.3h1.3v1.3h-1.3zM80.4 339.6h1.3v1.3h-1.3zM100.8 343.4h1.3v1.3h-1.3zM122.5 348.4h1.3v1.3h-1.3zM119.5 351.4h1.3v1.3h-1.3zM92.5 343h1.3v1.3h-1.3zM125.1 351.6h1.3v1.3h-1.3zM119.5 343.6h1.3v1.3h-1.3zM137.7 350.9h1.3v1.3h-1.3zM95.3 338h1.3v1.3h-1.3zM139.9 345.1h1.3v1.3h-1.3zM82.2 339.1h1.3v1.3h-1.3zM121.9 349.1h1.3v1.3h-1.3zM118.1 343.2h1.3v1.3h-1.3zM123.6 347.5h1.3v1.3h-1.3zM105.8 342.6h1.3v1.3h-1.3zM115.4 342.3h1.3v1.3h-1.3zM109.8 344.7h1.3v1.3h-1.3zM119.5 345.9h1.3v1.3h-1.3zM131.5 343.3h1.3v1.3h-1.3zM128.5 343.7h1.3v1.3h-1.3zM138.4 349h1.3v1.3h-1.3zM124 351h1.3v1.3h-1.3zM126.1 349.9h1.3v1.3h-1.3zM75.8 340.4h1.3v1.3h-1.3zM143.7 350.5h1.3v1.3h-1.3zM109.5 342.6h1.3v1.3h-1.3zM135.4 346h1.3v1.3h-1.3zM112.9 346.9h1.3v1.3h-1.3zM119.2 342.7h1.3v1.3h-1.3zM91.2 335.8h1.3v1.3h-1.3zM85.9 336.7h1.3v1.3h-1.3zM114.5 347.3h1.3v1.3h-1.3zM92.7 337.8h1.3v1.3h-1.3zM112 344.8h1.3v1.3h-1.3zM138.6 345.8h1.3v1.3h-1.3zM133.9 349.4h1.3v1.3h-1.3zM97.3 348.4h1.3v1.3h-1.3zM135.4 349h1.3v1.3h-1.3zM139.9 346.7h1.3v1.3h-1.3zM133.9 350.7h1.3v1.3h-1.3zM69.3 343.2h1.3v1.3h-1.3zM142.1 351.5h1.3v1.3h-1.3zM123.3 346.6h1.3v1.3h-1.3zM107.2 340.8h1.3v1.3h-1.3zM117.3 343.7h1.3v1.3h-1.3zM135 351.6h1.3v1.3h-1.3zM87.5 337.9h1.3v1.3h-1.3zM116.4 341.9h1.3v1.3h-1.3zM79.4 339.4h1.3v1.3h-1.3zM144.5 349.5h1.3v1.3h-1.3zM100 346.2h1.3v1.3h-1.3zM100 340.2h1.3v1.3h-1.3zM76.4 341.2h1.3v1.3h-1.3zM145.3 351.6h1.3v1.3h-1.3zM107.5 343.4h1.3v1.3h-1.3zM113.7 345.4h1.3v1.3h-1.3zM106.6 342.1h1.3v1.3h-1.3zM105.1 348.5h1.3v1.3h-1.3zM130.3 351.6h1.3v1.3h-1.3zM128.2 347.1h1.3v1.3h-1.3zM83.7 338.3h1.3v1.3h-1.3zM104.5 339.8h1.3v1.3h-1.3zM146.1 350h1.3v1.3h-1.3zM135 350.3h1.3v1.3h-1.3zM126 344.4h1.3v1.3h-1.3zM127.3 347h1.3v1.3h-1.3zM101.7 346.4h1.3v1.3h-1.3zM111.3 343.2h1.3v1.3h-1.3zM102.2 340.8h1.3v1.3h-1.3zM129.7 345.4h1.3v1.3h-1.3zM133.7 346.3h1.3v1.3h-1.3zM114.9 346.3h1.3v1.3h-1.3zM109.4 347.7h1.3v1.3h-1.3zM145.6 348.7h1.3v1.3h-1.3zM123.4 349.4h1.3v1.3h-1.3zM141.3 350.6h1.3v1.3h-1.3zM111 350.2h1.3v1.3h-1.3zM86.6 335.3h1.3v1.3h-1.3zM97 342.9h1.3v1.3h-1.3zM72.6 342.4h1.3v1.3h-1.3zM86.4 337.7h1.3v1.3h-1.3zM120.3 347.3h1.3v1.3h-1.3zM125.6 351.1h1.3v1.3h-1.3zM144.8 347.7h1.3v1.3h-1.3zM125.8 348.1h1.3v1.3h-1.3zM110.9 341.5h1.3v1.3h-1.3zM128.6 348.6h1.3v1.3h-1.3zM114.6 350.1h1.3v1.3h-1.3zM94.1 336.9h1.3v1.3h-1.3zM111 347.4h1.3v1.3h-1.3zM89.9 340.7h1.3v1.3h-1.3zM89.6 339.8h1.3v1.3h-1.3zM79 338.5h1.3v1.3h-1.3zM118.5 346.6h1.3v1.3h-1.3zM82.4 340.4h1.3v1.3h-1.3zM84.4 337.4h1.3v1.3h-1.3zM95.8 341.8h1.3v1.3h-1.3zM127.9 345.4h1.3v1.3h-1.3zM105.8 340.6h1.3v1.3h-1.3zM98.9 338.1h1.3v1.3h-1.3zM77.2 339.9h1.3v1.3h-1.3zM94.1 341.8h1.3v1.3h-1.3zM131.6 348.4h1.3v1.3h-1.3zM97.2 339.5h1.3v1.3h-1.3zM105.2 345.8h1.3v1.3h-1.3zM127.3 350.5h1.3v1.3h-1.3zM130.7 349.8h1.3v1.3h-1.3zM97.6 342.1h1.3v1.3h-1.3zM124.3 348.3h1.3v1.3h-1.3zM117.6 345.6h1.3v1.3h-1.3zM118.5 350.6h1.3v1.3h-1.3zM140.3 350.2h1.3v1.3h-1.3zM119.7 350.5h1.3v1.3h-1.3zM112.8 349.2h1.3v1.3h-1.3zM134.4 343.9h1.3v1.3h-1.3zM70.6 342.1h1.3v1.3h-1.3zM130.7 345.6h1.3v1.3h-1.3zM113.9 341.8h1.3v1.3h-1.3zM91.8 341.8h1.3v1.3h-1.3zM100.8 344.8h1.3v1.3h-1.3zM132.3 351.6h1.3v1.3h-1.3zM87.1 336.2h1.3v1.3h-1.3zM77.9 338.6h1.3v1.3h-1.3zM138.5 351.6h1.3v1.3h-1.3zM101.8 339.2h1.3v1.3h-1.3zM128.8 345.7h1.3v1.3h-1.3zM144.2 347h1.3v1.3h-1.3zM103.5 342.4h1.3v1.3h-1.3zM135.5 343.7h1.3v1.3h-1.3zM122.5 351.1h1.3v1.3h-1.3zM97.6 347.4h1.3v1.3h-1.3zM121.1 342.8h1.3v1.3h-1.3zM98.7 341.1h1.3v1.3h-1.3zM108.6 349.6h1.3v1.3h-1.3zM86.4 338.9h1.3v1.3h-1.3zM102.6 345.7h1.3v1.3h-1.3zM124.5 349.4h1.3v1.3h-1.3zM111 346.3h1.3v1.3h-1.3zM104.6 341.3h1.3v1.3h-1.3zM119.3 347.6h1.3v1.3h-1.3zM112.9 344.2h1.3v1.3h-1.3zM137.2 348.6h1.3v1.3h-1.3zM134 345.2h1.3v1.3h-1.3zM95.4 340.4h1.3v1.3h-1.3zM93.6 335.9h1.3v1.3h-1.3zM120.2 344.2h1.3v1.3h-1.3zM121.2 344.7h1.3v1.3h-1.3zM103.7 344.3h1.3v1.3h-1.3zM119.2 349h1.3v1.3h-1.3zM124.5 344.2h1.3v1.3h-1.3zM138 347.3h1.3v1.3h-1.3zM96 346.2h1.3v1.3h-1.3zM126 346.9h1.3v1.3h-1.3zM67.5 343.5h1.3v1.3h-1.3zM143.9 348.8h1.3v1.3h-1.3zM137 351.6h1.3v1.3h-1.3zM100.2 339.2h1.3v1.3h-1.3zM98.2 338.7h1.3v1.3h-1.3zM100.3 341h1.3v1.3h-1.3zM130 344.3h1.3v1.3h-1.3zM88.4 339h1.3v1.3h-1.3zM94.5 339.6h1.3v1.3h-1.3zM108.5 343.6h1.3v1.3h-1.3zM81 338.3h1.3v1.3h-1.3zM105.9 343.7h1.3v1.3h-1.3zM96.1 336.6h1.3v1.3h-1.3zM114.7 348.6h1.3v1.3h-1.3zM124.2 343h1.3v1.3h-1.3zM87.6 339.6h1.3v1.3h-1.3zM80.6 340.6h1.3v1.3h-1.3zM128.1 349.8h1.3v1.3h-1.3zM101 341.6h1.3v1.3h-1.3zM100.1 342.1h1.3v1.3h-1.3zM83.9 334.9h1.3v1.3h-1.3zM120.4 351.3h1.3v1.3h-1.3zM124.6 346.3h1.3v1.3h-1.3zM86.7 339.9h1.3v1.3h-1.3zM134 351.6h1.3v1.3h-1.3zM130.9 344.1h1.3v1.3h-1.3zM104.6 343.5h1.3v1.3h-1.3zM91.4 338.4h1.3v1.3h-1.3zM135.3 344.7h1.3v1.3h-1.3z" fill="#c4da48"/>
<rect x="333.8" y="345" width="1.3" height="1.3" fill="#22cc33"/>
<rect x="332.2" y="349.8" width="1.3" height="1.3" fill="#22cc33"/>
<rect x="335.3" y="345.6" width="1.3" height="1.3" fill="#22cc33"/>
<rect x="335.1" y="344.3" width="1.3" height="1.3" fill="#22cc33"/>
<rect x="336.4" y="343.8" width="1.3" height="1.3" fill="#22cc33"/>
<rect x="336.8" y="343.8" width="1.3" height="1.3" fill="#22cc33"/>
<rect x="337.2" y="342.3" width="1.3" height="1.3" fill="#22cc33"/>
<rect x="332.1" y="346.4" width="1.3" height="1.3" fill="#22cc33"/>
<rect x="336.4" y="341.9" width="1.3" height="1.3" fill="#22cc33"/>
<rect x="335.8" y="344.7" width="1.3" height="1.3" fill="#22cc33"/>
<rect x="331.4" y="349.8" width="1.3" height="1.3" fill="#22cc33"/>
<rect x="331.2" y="349.8" width="1.3" height="1.3" fill="#22cc33"/>
<rect x="337.2" y="341.1" width="1.3" height="1.3" fill="#22cc33"/>
<rect x="336.4" y="344.7" width="1.3" height="1.3" fill="#22cc33"/>
<rect x="331.9" y="349.2" width="1.3" height="1.3" fill="#22cc33"/>
<rect x="331.9" y="349.8" width="1.3" height="1.3" fill="#22cc33"/>
<rect x="336.1" y="346.2" width="1.3" height="1.3" fill="#22cc33"/>
<rect x="331.4" y="348.1" width="1.3" height="1.3" fill="#22cc33"/>
<rect x="335.6" y="344.9" width="1.3" height="1.3" fill="#22cc33"/>
<rect x="332.3" y="349.8" width="1.3" height="1.3" fill="#22cc33"/>
<rect x="337.3" y="341.5" width="1.3" height="1.3" fill="#22cc33"/>
<rect x="332.1" y="349.1" width="1.3" height="1.3" fill="#22cc33"/>
<rect x="334" y="346.9" width="1.3" height="1.3" fill="#22cc33"/>
<rect x="334.7" y="344.9" width="1.3" height="1.3" fill="#22cc33"/>
<rect x="331.2" y="347.4" width="1.3" height="1.3" fill="#22cc33"/>
<rect x="334.4" y="346.8" width="1.3" height="1.3" fill="#22cc33"/>
<rect x="334.1" y="347.2" width="1.3" height="1.3" fill="#22cc33"/>
<rect x="335" y="346.9" width="1.3" height="1.3" fill="#22cc33"/>
<rect x="335.8" y="343.2" width="1.3" height="1.3" fill="#22cc33"/>
<rect x="332" y="346.1" width="1.3" height="1.3" fill="#22cc33"/>
<rect x="331.3" y="349.8" width="1.3" height="1.3" fill="#22cc33"/>
<rect x="337.5" y="343.5" width="1.3" height="1.3" fill="#22cc33"/>
<rect x="331.8" y="349.3" width="1.3" height="1.3" fill="#22cc33"/>
<rect x="331.9" y="349.8" width="1.3" height="1.3" fill="#22cc33"/>
<rect x="314.5" y="346.1" width="1.3" height="1.3" fill="#22cc33"/>
<rect x="315.4" y="345" width="1.3" height="1.3" fill="#22cc33"/>
<rect x="321.1" y="342.2" width="1.3" height="1.3" fill="#22cc33"/>
<rect x="340.4" y="340.2" width="1.3" height="1.3" fill="#22cc33"/>
<rect x="339.4" y="342.8" width="1.3" height="1.3" fill="#22cc33"/>
<rect x="341.8" y="341.4" width="1.3" height="1.3" fill="#22cc33"/>
<rect x="350" y="341" width="1.1" height="1.1" fill="#a9b0da"/>
<rect x="349.2" y="340.1" width="1.1" height="1.1" fill="#a9b0da"/>
<rect x="353.1" y="340.9" width="1.1" height="1.1" fill="#a9b0da"/>
<rect x="343.4" y="341.8" width="1.1" height="1.1" fill="#a9b0da"/>
<rect x="351.2" y="340.4" width="1.1" height="1.1" fill="#a9b0da"/>
<rect x="346.1" y="341.1" width="1.1" height="1.1" fill="#a9b0da"/>
<rect x="355" y="338" width="1.1" height="1.1" fill="#a9b0da"/>
<rect x="342.9" y="342.8" width="1.1" height="1.1" fill="#a9b0da"/>
<rect x="343.9" y="343.2" width="1.1" height="1.1" fill="#a9b0da"/>
<rect x="344.7" y="343.1" width="1.1" height="1.1" fill="#a9b0da"/>
<rect x="345.6" y="342.7" width="1.1" height="1.1" fill="#a9b0da"/>
<rect x="351.5" y="340.5" width="1.1" height="1.1" fill="#a9b0da"/>
<rect x="342.9" y="341" width="1.1" height="1.1" fill="#a9b0da"/>
<rect x="340" y="341.9" width="1.1" height="1.1" fill="#a9b0da"/>
<rect x="350.2" y="338.6" width="1.1" height="1.1" fill="#a9b0da"/>
<rect x="343.3" y="342.3" width="1.1" height="1.1" fill="#a9b0da"/>
<rect x="342" y="341.8" width="1.1" height="1.1" fill="#a9b0da"/>
<rect x="343.2" y="342.7" width="1.1" height="1.1" fill="#a9b0da"/>
<rect x="341.4" y="344.3" width="1.1" height="1.1" fill="#a9b0da"/>
<rect x="349.1" y="341.1" width="1.1" height="1.1" fill="#a9b0da"/>
<rect x="348.3" y="340.6" width="1.1" height="1.1" fill="#a9b0da"/>
<rect x="355" y="340.1" width="1.1" height="1.1" fill="#a9b0da"/>
<rect x="352.7" y="337.8" width="1.1" height="1.1" fill="#a9b0da"/>
<rect x="348.9" y="342" width="1.1" height="1.1" fill="#a9b0da"/>
<rect x="349.7" y="340.3" width="1.1" height="1.1" fill="#a9b0da"/>
<rect x="349.9" y="339.1" width="1.1" height="1.1" fill="#a9b0da"/>
<rect x="351.1" y="340.8" width="1.1" height="1.1" fill="#a9b0da"/>
<rect x="340.6" y="342.8" width="1.1" height="1.1" fill="#a9b0da"/>
<rect x="349" y="339.9" width="1.1" height="1.1" fill="#a9b0da"/>
<rect x="350.4" y="341.5" width="1.1" height="1.1" fill="#a9b0da"/>
<rect x="354" y="338.4" width="1.1" height="1.1" fill="#a9b0da"/>
<rect x="341.9" y="343.6" width="1.1" height="1.1" fill="#a9b0da"/>
<rect x="349.3" y="341.5" width="1.1" height="1.1" fill="#a9b0da"/>
<rect x="353.4" y="338.5" width="1.1" height="1.1" fill="#a9b0da"/>
<rect x="348.9" y="339.8" width="1.1" height="1.1" fill="#a9b0da"/>
<rect x="352.3" y="340.2" width="1.1" height="1.1" fill="#a9b0da"/>
<rect x="343.3" y="342" width="1.1" height="1.1" fill="#a9b0da"/>
<rect x="349" y="339.5" width="1.1" height="1.1" fill="#a9b0da"/>
<rect x="342.4" y="342.2" width="1.1" height="1.1" fill="#a9b0da"/>
<rect x="340.7" y="342.8" width="1.1" height="1.1" fill="#a9b0da"/>
<rect x="288.6" y="274.1" width="1.5" height="1.5" fill="#ee5522"/>
<rect x="288.8" y="273.4" width="0.9" height="2.6" fill="#ee5522"/>
<rect x="240.1" y="225" width="89.1" height="47.5" fill="#cfcfcf" stroke="#a2a2a2" stroke-width="1.1"/>
<path d="M262.4 225v1.4M262.4 272.5v-1.4M284.6 225v1.4M284.6 272.5v-1.4M306.9 225v1.4M306.9 272.5v-1.4M240.1 240.8h1.4M329.2 240.8h-1.4M240.1 256.7h1.4M329.2 256.7h-1.4" stroke="#8f8f8f" stroke-width="0.6" fill="none"/>
<rect x="270.5" y="252.3" width="1.3" height="1.3" fill="#22bb33"/>
<rect x="267.6" y="254.4" width="1.3" height="1.3" fill="#22bb33"/>
<rect x="262.1" y="252.6" width="1.3" height="1.3" fill="#22bb33"/>
<rect x="261.1" y="256.2" width="1.3" height="1.3" fill="#22bb33"/>
<rect x="269" y="252.6" width="1.3" height="1.3" fill="#22bb33"/>
<rect x="260.3" y="258.4" width="1.3" height="1.3" fill="#22bb33"/>
<rect x="259.4" y="255.5" width="1.3" height="1.3" fill="#22bb33"/>
<rect x="263.1" y="255.2" width="1.3" height="1.3" fill="#22bb33"/>
<rect x="269.1" y="249.8" width="1.3" height="1.3" fill="#22bb33"/>
<rect x="264" y="255" width="1.3" height="1.3" fill="#22bb33"/>
<rect x="260.9" y="255.6" width="1.3" height="1.3" fill="#22bb33"/>
<rect x="265.8" y="251.4" width="1.3" height="1.3" fill="#22bb33"/>
<rect x="260.4" y="255.8" width="1.3" height="1.3" fill="#22bb33"/>
<rect x="264.3" y="254.7" width="1.3" height="1.3" fill="#22bb33"/>
<rect x="273.1" y="252.1" width="1.3" height="1.3" fill="#22bb33"/>
<rect x="266.8" y="252.1" width="1.3" height="1.3" fill="#22bb33"/>
<rect x="268.5" y="251.2" width="1.3" height="1.3" fill="#22bb33"/>
<rect x="270.8" y="253.6" width="1.3" height="1.3" fill="#22bb33"/>
<rect x="257.9" y="255" width="1.3" height="1.3" fill="#22bb33"/>
<rect x="264.5" y="253.6" width="1.3" height="1.3" fill="#22bb33"/>
<rect x="260.6" y="253.8" width="1.3" height="1.3" fill="#22bb33"/>
<rect x="267.7" y="252" width="1.3" height="1.3" fill="#22bb33"/>
<rect x="259.6" y="255.8" width="1.3" height="1.3" fill="#22bb33"/>
<rect x="268.6" y="255.3" width="1.3" height="1.3" fill="#22bb33"/>
<rect x="265.4" y="253.3" width="1.3" height="1.3" fill="#22bb33"/>
<rect x="262.3" y="254.3" width="1.3" height="1.3" fill="#22bb33"/>
<rect x="267.1" y="255.3" width="1.3" height="1.3" fill="#22bb33"/>
<rect x="269.6" y="251.7" width="1.3" height="1.3" fill="#22bb33"/>
<rect x="268.3" y="253.9" width="1.3" height="1.3" fill="#22bb33"/>
<rect x="266.8" y="249.1" width="1.3" height="1.3" fill="#22bb33"/>
<rect x="264.9" y="253.6" width="1.3" height="1.3" fill="#22bb33"/>
<rect x="269.9" y="251.5" width="1.3" height="1.3" fill="#22bb33"/>
<rect x="266.8" y="253.7" width="1.3" height="1.3" fill="#22bb33"/>
<rect x="269.7" y="253.3" width="1.3" height="1.3" fill="#22bb33"/>
<rect x="268.9" y="254.9" width="1.3" height="1.3" fill="#22bb33"/>
<rect x="268.6" y="253.8" width="1.3" height="1.3" fill="#22bb33"/>
<rect x="264.2" y="254.5" width="1.3" height="1.3" fill="#22bb33"/>
<rect x="272.9" y="250.7" width="1.3" height="1.3" fill="#22bb33"/>
<rect x="267" y="253.1" width="1.3" height="1.3" fill="#22bb33"/>
<rect x="264.1" y="249.3" width="1.3" height="1.3" fill="#22bb33"/>
<rect x="271.3" y="249.4" width="1.3" height="1.3" fill="#22bb33"/>
<rect x="262.2" y="257.5" width="1.3" height="1.3" fill="#22bb33"/>
<rect x="256.9" y="257.6" width="1.3" height="1.3" fill="#22bb33"/>
<rect x="263.1" y="251.7" width="1.3" height="1.3" fill="#22bb33"/>
<rect x="267.4" y="251.7" width="1.3" height="1.3" fill="#22bb33"/>
<rect x="264.8" y="253.4" width="1.3" height="1.3" fill="#22bb33"/>
<rect x="267.5" y="256.8" width="1.3" height="1.3" fill="#22bb33"/>
<rect x="260.6" y="257.3" width="1.3" height="1.3" fill="#22bb33"/>
<rect x="263.6" y="254.2" width="4.6" height="3.6" fill="#22bb33"/>
<rect x="243.8" y="258.2" width="1.2" height="1.2" fill="#22bb33"/>
<rect x="253" y="258.9" width="1.2" height="1.2" fill="#22bb33"/>
<rect x="255.4" y="258.2" width="1.2" height="1.2" fill="#22bb33"/>
<rect x="277.6" y="249.8" width="1.2" height="1.2" fill="#22bb33"/>
<rect x="281.4" y="248.9" width="1.2" height="1.2" fill="#22bb33"/>
<rect x="275.4" y="250.8" width="1.2" height="1.2" fill="#22bb33"/>
<rect x="303.8" y="248.6" width="0.9" height="0.9" fill="#b6bcdc"/>
<rect x="316.3" y="249.8" width="0.9" height="0.9" fill="#b6bcdc"/>
<rect x="294.7" y="248.6" width="0.9" height="0.9" fill="#b6bcdc"/>
<rect x="289.1" y="249.7" width="0.9" height="0.9" fill="#b6bcdc"/>
<rect x="313.2" y="247.7" width="0.9" height="0.9" fill="#b6bcdc"/>
<rect x="307.3" y="245.9" width="0.9" height="0.9" fill="#b6bcdc"/>
<rect x="318" y="248.4" width="0.9" height="0.9" fill="#b6bcdc"/>
<rect x="290.6" y="249.8" width="0.9" height="0.9" fill="#b6bcdc"/>
<rect x="296.7" y="249.7" width="0.9" height="0.9" fill="#b6bcdc"/>
<rect x="299.5" y="248.8" width="0.9" height="0.9" fill="#b6bcdc"/>
<rect x="284.8" y="250.6" width="0.9" height="0.9" fill="#b6bcdc"/>
<rect x="305.2" y="248.9" width="0.9" height="0.9" fill="#b6bcdc"/>
<rect x="301.5" y="250.7" width="0.9" height="0.9" fill="#b6bcdc"/>
<rect x="317.7" y="247.2" width="0.9" height="0.9" fill="#b6bcdc"/>
<rect x="304" y="248.7" width="0.9" height="0.9" fill="#b6bcdc"/>
<rect x="310.8" y="249.1" width="0.9" height="0.9" fill="#b6bcdc"/>
<rect x="288.3" y="250.9" width="0.9" height="0.9" fill="#b6bcdc"/>
<rect x="287.2" y="249.3" width="0.9" height="0.9" fill="#b6bcdc"/>
<rect x="305.6" y="249" width="0.9" height="0.9" fill="#b6bcdc"/>
<rect x="283.1" y="250.4" width="0.9" height="0.9" fill="#b6bcdc"/>
<rect x="296.5" y="248.5" width="0.9" height="0.9" fill="#b6bcdc"/>
<rect x="287.5" y="250" width="0.9" height="0.9" fill="#b6bcdc"/>
<rect x="303.8" y="248.5" width="0.9" height="0.9" fill="#b6bcdc"/>
<rect x="284.2" y="248.6" width="0.9" height="0.9" fill="#b6bcdc"/>
<rect x="292.5" y="248.8" width="0.9" height="0.9" fill="#b6bcdc"/>
<rect x="306.5" y="247.8" width="0.9" height="0.9" fill="#b6bcdc"/>
<rect x="285.3" y="249.1" width="0.9" height="0.9" fill="#b6bcdc"/>
<rect x="290.8" y="248.5" width="0.9" height="0.9" fill="#b6bcdc"/>
<rect x="309.5" y="247" width="0.9" height="0.9" fill="#b6bcdc"/>
<rect x="293.1" y="249.3" width="0.9" height="0.9" fill="#b6bcdc"/>
<rect x="307.3" y="248.2" width="0.9" height="0.9" fill="#b6bcdc"/>
<rect x="299" y="250.1" width="0.9" height="0.9" fill="#b6bcdc"/>
<rect x="316.3" y="248.4" width="0.9" height="0.9" fill="#b6bcdc"/>
<rect x="313.8" y="247" width="0.9" height="0.9" fill="#b6bcdc"/>
<rect x="305.1" y="248.5" width="0.9" height="0.9" fill="#b6bcdc"/>
<rect x="303.8" y="247.4" width="0.9" height="0.9" fill="#b6bcdc"/>
<rect x="290.5" y="250.5" width="0.9" height="0.9" fill="#b6bcdc"/>
<rect x="312.9" y="247.8" width="0.9" height="0.9" fill="#b6bcdc"/>
<rect x="305" y="249.2" width="0.9" height="0.9" fill="#b6bcdc"/>
<rect x="315.2" y="248.5" width="0.9" height="0.9" fill="#b6bcdc"/>
<rect x="308.4" y="250.5" width="0.9" height="0.9" fill="#b6bcdc"/>
<rect x="291.1" y="247.8" width="0.9" height="0.9" fill="#b6bcdc"/>
<rect x="319" y="246.9" width="0.9" height="0.9" fill="#b6bcdc"/>
<rect x="301.7" y="247.6" width="0.9" height="0.9" fill="#b6bcdc"/>
<rect x="292" y="247.8" width="0.9" height="0.9" fill="#b6bcdc"/>
<rect x="293.5" y="249.1" width="0.9" height="0.9" fill="#b6bcdc"/>
<rect x="306.2" y="233.2" width="0.9" height="0.9" fill="#b6bcdc"/>
<rect x="326" y="248" width="0.9" height="0.9" fill="#b6bcdc"/>
<path d="M306.6 327.8h1.7v1.7h-1.7zM306.6 349.5h1.7v1.7h-1.7zM309.1 327.4h1.7v1.7h-1.7zM309.1 349.8h1.7v1.7h-1.7zM312 327.4h1.7v1.7h-1.7zM312 349.8h1.7v1.7h-1.7zM314.9 327.4h1.7v1.7h-1.7zM314.9 349.8h1.7v1.7h-1.7zM317.8 327.4h1.7v1.7h-1.7zM317.8 349.8h1.7v1.7h-1.7zM320.7 327.4h1.7v1.7h-1.7zM320.7 349.8h1.7v1.7h-1.7zM323.6 327.4h1.7v1.7h-1.7zM323.6 349.8h1.7v1.7h-1.7zM326.4 327.4h1.7v1.7h-1.7zM326.4 349.8h1.7v1.7h-1.7zM329.3 327.4h1.7v1.7h-1.7zM329.3 349.8h1.7v1.7h-1.7zM332.2 327.4h1.7v1.7h-1.7zM332.2 349.8h1.7v1.7h-1.7zM335.1 327.4h1.7v1.7h-1.7zM335.1 349.8h1.7v1.7h-1.7zM338 327.4h1.7v1.7h-1.7zM338 349.8h1.7v1.7h-1.7zM340.8 327.4h1.7v1.7h-1.7zM340.8 349.8h1.7v1.7h-1.7zM343.7 327.4h1.7v1.7h-1.7zM343.7 349.8h1.7v1.7h-1.7zM346.6 327.4h1.7v1.7h-1.7zM346.6 349.8h1.7v1.7h-1.7zM349.5 327.4h1.7v1.7h-1.7zM349.5 349.8h1.7v1.7h-1.7zM352.4 327.4h1.7v1.7h-1.7zM352.4 349.8h1.7v1.7h-1.7zM355.3 327.4h1.7v1.7h-1.7zM355.3 349.8h1.7v1.7h-1.7zM357.8 327.8h1.7v1.7h-1.7zM357.8 349.5h1.7v1.7h-1.7zM306.2 330.2h1.7v1.7h-1.7zM358.1 330.2h1.7v1.7h-1.7zM306.2 333h1.7v1.7h-1.7zM358.1 333h1.7v1.7h-1.7zM306.2 335.8h1.7v1.7h-1.7zM358.1 335.8h1.7v1.7h-1.7zM306.2 338.6h1.7v1.7h-1.7zM358.1 338.6h1.7v1.7h-1.7zM306.2 341.4h1.7v1.7h-1.7zM358.1 341.4h1.7v1.7h-1.7zM306.2 344.2h1.7v1.7h-1.7zM358.1 344.2h1.7v1.7h-1.7zM306.2 347h1.7v1.7h-1.7zM358.1 347h1.7v1.7h-1.7z" fill="#f20d0d"/>
<line x1="279" y1="273.6" x2="316.5" y2="323.8" stroke="#333" stroke-width="0.8"/>
<path d="M319.3 327.5 L313.1 323.6 L316.5 323.8 L317.3 320.5z" fill="#111"/>
<text x="11.6" y="211.9" font-size="11.2">ADBSCAN</text>
<text x="211.1" y="285.9" font-size="10.2">Misclustering</text>
<rect x="6.5" y="388.4" width="352.9" height="154.9" fill="#fff" stroke="#a2a2a2" stroke-width="1"/>
<path d="M40.2 388.4v3.4M40.2 543.3v-3.4M75.7 388.4v3.4M75.7 543.3v-3.4M111.2 388.4v3.4M111.2 543.3v-3.4M146.7 388.4v3.4M146.7 543.3v-3.4M182.2 388.4v3.4M182.2 543.3v-3.4M217.7 388.4v3.4M217.7 543.3v-3.4M253.2 388.4v3.4M253.2 543.3v-3.4M288.7 388.4v3.4M288.7 543.3v-3.4M324.2 388.4v3.4M324.2 543.3v-3.4M6.5 407.8h3.4M359.4 407.8h-3.4M6.5 427.1h3.4M359.4 427.1h-3.4M6.5 446.5h3.4M359.4 446.5h-3.4M6.5 465.8h3.4M359.4 465.8h-3.4M6.5 485.2h3.4M359.4 485.2h-3.4M6.5 504.6h3.4M359.4 504.6h-3.4M6.5 523.9h3.4M359.4 523.9h-3.4" stroke="#999" stroke-width="0.9" fill="none"/>
<path d="M21.6 434 L20.4 437.8 L19.8 442.8" fill="none" stroke="#2255ee" stroke-width="1.3" stroke-linecap="round" stroke-linejoin="round"/>
<path d="M19.2 445.8 L18.2 450.2" fill="none" stroke="#2255ee" stroke-width="1.2" stroke-linecap="round" stroke-linejoin="round"/>
<rect x="96.6" y="426.4" width="3.8" height="7.2" fill="#22dd22"/>
<rect x="94.4" y="431.4" width="2.6" height="2" fill="#22dd22"/>
<rect x="87.4" y="431.7" width="3.2" height="1.1" fill="#22ee22"/>
<rect x="91.2" y="432" width="2.6" height="1.1" fill="#22ee22"/>
<rect x="5.8" y="454.1" width="1.5" height="1.5" fill="#66aaee"/>
<rect x="99.5" y="454.8" width="1.6" height="1.6" fill="#aa1166"/>
<path d="M112.2 463 L115.2 464.6 L117.4 461.4M113.4 467.8 L115 464 L116.2 467.2" fill="none" stroke="#9966dd" stroke-width="1.1" stroke-linecap="round" stroke-linejoin="round"/>
<rect x="14.4" y="475.4" width="1.2" height="1.2" fill="#bbbbbb"/>
<rect x="14.3" y="480.8" width="1.3" height="1.3" fill="#66aaee"/>
<rect x="45.4" y="495.2" width="1.3" height="1.3" fill="#7733bb"/>
<rect x="51.4" y="495" width="1.3" height="1.3" fill="#7733bb"/>
<rect x="53.4" y="490.9" width="1.3" height="1.3" fill="#7733bb"/>
<rect x="54.1" y="496.4" width="1.3" height="1.3" fill="#7733bb"/>
<rect x="50.5" y="493.8" width="1.1" height="1.1" fill="#7733bb"/>
<rect x="75.2" y="491.4" width="1.3" height="1.3" fill="#bbee33"/>
<path d="M73.4 494.4 L73.2 498" fill="none" stroke="#ff3366" stroke-width="1.1" stroke-linecap="round" stroke-linejoin="round"/>
<rect x="5.7" y="518.1" width="1.6" height="1.6" fill="#2233dd"/>
<rect x="76.9" y="478.1" width="1.1" height="1.1" fill="#ff3366"/>
<rect x="79" y="476.9" width="1.1" height="1.1" fill="#ff3366"/>
<rect x="80" y="478.9" width="1.1" height="1.1" fill="#ff3366"/>
<rect x="81.7" y="477.4" width="1.1" height="1.1" fill="#ff3366"/>
<rect x="82.7" y="479.9" width="1.1" height="1.1" fill="#ff3366"/>
<rect x="83.9" y="476.6" width="1.1" height="1.1" fill="#ff3366"/>
<rect x="85" y="477.6" width="1.1" height="1.1" fill="#ff3366"/>
<rect x="86" y="477.1" width="1.1" height="1.1" fill="#ff3366"/>
<rect x="87.2" y="478.4" width="1.1" height="1.1" fill="#ff3366"/>
<rect x="87.9" y="479.9" width="1.1" height="1.1" fill="#ff3366"/>
<rect x="82" y="480.4" width="1.1" height="1.1" fill="#ff3366"/>
<rect x="96.6" y="478.2" width="16" height="2" fill="#b08d2a"/>
<rect x="97.1" y="480.2" width="1.2" height="3.2" fill="#b08d2a"/>
<rect x="100.2" y="480.8" width="3.6" height="3.6" fill="#b08d2a"/>
<rect x="101.2" y="481.8" width="1.4" height="1.6" fill="#fff"/>
<rect x="105" y="480.6" width="2.6" height="3.8" fill="#b08d2a"/>
<path d="M108.2 480.2h3.6q1.6 2 0 4.2h-3.6z" fill="#b08d2a"/>
<rect x="109.2" y="481.2" width="1.2" height="1.8" fill="#fff"/>
<path d="M125.6 478h15.6l-4.2 2.8h-11.4z" fill="#22ee22"/>
<rect x="126.2" y="482.2" width="8.6" height="1.8" fill="#22ee22"/>
<path d="M134 480.6l3.4 0 -2.2 3.4 -2.6 0z" fill="#22ee22"/>
<rect x="147" y="477" width="13.4" height="2.2" fill="#22ee66"/>
<rect x="148.6" y="479" width="2.2" height="4.2" fill="#22ee66"/>
<rect x="151.6" y="479.2" width="3.6" height="4.2" fill="#22ee66"/>
<rect x="152.6" y="480.4" width="1.2" height="1.6" fill="#fff"/>
<path d="M156 479h3.4q2 2.2 0 4.6h-3.4z" fill="#22ee66"/>
<rect x="157" y="480.2" width="1.2" height="2" fill="#fff"/>
<rect x="168.4" y="478" width="12" height="2.2" fill="#22aa22"/>
<path d="M169.2 480h3.4l-1.6 4.6h-3z" fill="#22aa22"/>
<rect x="172.6" y="480.2" width="3" height="4.2" fill="#22aa22"/>
<path d="M176.2 480.2h3.2q2 2.2 0 4.4h-3.2z" fill="#22aa22"/>
<rect x="177.2" y="481.4" width="1.1" height="1.6" fill="#fff"/>
<path d="M135.4 463.4 L138 465.4 L135.4 467.6" fill="none" stroke="#dd1133" stroke-width="1.2" stroke-linecap="round" stroke-linejoin="round"/>
<path d="M138.2 463.6 L136.6 465.4 L138.2 467.4" fill="none" stroke="#dd1133" stroke-width="0.9" stroke-linecap="round" stroke-linejoin="round"/>
<ellipse cx="141.2" cy="465.4" rx="2.3" ry="2.5" fill="none" stroke="#dd1133" stroke-width="1.4"/>
<path d="M144.4 462.8q2.2 2.6 0 5.2h1.8" fill="none" stroke="#dd1133" stroke-width="1.1" stroke-linecap="round" stroke-linejoin="round"/>
<rect x="155.6" y="462.4" width="4.2" height="1.1" fill="#5544ee"/>
<rect x="155.6" y="464.6" width="4.2" height="1.1" fill="#5544ee"/>
<rect x="155.6" y="466.8" width="4.2" height="1.1" fill="#5544ee"/>
<path d="M160.2 462.8 L163.2 467.8M163.2 462.8 L160.2 467.8" fill="none" stroke="#5544ee" stroke-width="1.1" stroke-linecap="round" stroke-linejoin="round"/>
<rect x="163.8" y="462.2" width="5.6" height="6.2" fill="#5544ee"/>
<rect x="165.2" y="464" width="1.4" height="2.4" fill="#fff" fill-opacity="0.55"/>
<rect x="178.5" y="459.4" width="1.3" height="1.3" fill="#4455ee"/>
<rect x="179" y="460.8" width="1.1" height="1.1" fill="#ee7722"/>
<rect x="178.3" y="470.4" width="1.3" height="1.3" fill="#44cc22"/>
<rect x="187.4" y="469" width="1.2" height="1.2" fill="#66dd44"/>
<rect x="98.2" y="491.6" width="27.8" height="1.3" fill="#bb33cc"/>
<path d="M113.6 495.6 L115 494.6" fill="none" stroke="#bb33cc" stroke-width="0.8" stroke-linecap="round" stroke-linejoin="round"/>
<path d="M120 492.4q0 1.6 0.9 3q-0.6 3.4 0.7 6M125 492q2.4 1.6 2 4.6q-0.6 3.2-2 5M122.8 493.8q1.6 1.4 0.4 3.4" fill="none" stroke="#bb33cc" stroke-width="1.5" stroke-linecap="round" stroke-linejoin="round"/>
<rect x="141.4" y="493.2" width="16" height="1.8" fill="#99ee33"/>
<rect x="144.6" y="494.8" width="1.8" height="4.6" fill="#99ee33"/>
<rect x="147.8" y="495.8" width="1.4" height="4" fill="#99ee33"/>
<path d="M151.6 495.8 L149.4 497.8 L151.8 499.6" fill="none" stroke="#99ee33" stroke-width="1.1" stroke-linecap="round" stroke-linejoin="round"/>
<path d="M156 496 L153.8 496.6 L153.6 498.6 L155.4 499.4" fill="none" stroke="#99ee33" stroke-width="1.1" stroke-linecap="round" stroke-linejoin="round"/>
<rect x="172.8" y="493" width="12.6" height="1.8" fill="#552266"/>
<rect x="175" y="494.6" width="1.8" height="4.8" fill="#552266"/>
<path d="M180.2 495.6 L178.2 495.6 L178.2 499.2 L180.4 499.2M178.2 497.4h1.8" fill="none" stroke="#552266" stroke-width="1.1" stroke-linecap="round" stroke-linejoin="round"/>
<path d="M182.4 499.6v-4.2h2q1.6 1.2 0 2.6h-2" fill="none" stroke="#552266" stroke-width="1.1" stroke-linecap="round" stroke-linejoin="round"/>
<rect x="176.2" y="500.6" width="2.6" height="0.8" fill="#552266"/>
<path d="M221.6 446.4 L224.6 448.2 L231 456.2 L228.4 459.8 L226.6 458.8 L219.2 450.4z" fill="#ee11cc"/>
<rect x="221.9" y="449.1" width="1.2" height="1.2" fill="#fff" fill-opacity="0.8"/>
<rect x="224.1" y="451.7" width="1.2" height="1.2" fill="#fff" fill-opacity="0.8"/>
<rect x="226.3" y="454.3" width="1.2" height="1.2" fill="#fff" fill-opacity="0.8"/>
<rect x="224.5" y="449.9" width="1.2" height="1.2" fill="#fff" fill-opacity="0.8"/>
<rect x="227.1" y="452.7" width="1.2" height="1.2" fill="#fff" fill-opacity="0.8"/>
<rect x="207.2" y="454.8" width="1.4" height="1.4" fill="#aabbaa"/>
<rect x="214.8" y="454.1" width="1.7" height="1.7" fill="#ee88aa"/>
<rect x="180" y="456.6" width="1.2" height="1.2" fill="#f4f4c0"/>
<rect x="181" y="461.2" width="1.2" height="1.2" fill="#f4f4c0"/>
<rect x="179.6" y="465.2" width="1.2" height="1.2" fill="#f4f4c0"/>
<rect x="187.2" y="469.2" width="1.3" height="1.3" fill="#44dd22"/>
<path d="M191 388.4h4.2l-3.6 2.4z" fill="#ee88bb"/>
<path d="M226 388.4 L223.8 391" fill="none" stroke="#22bb44" stroke-width="1.3" stroke-linecap="round" stroke-linejoin="round"/>
<rect x="232.7" y="397" width="1.4" height="1.4" fill="#667766"/>
<rect x="213.8" y="404.4" width="1.6" height="1.6" fill="#22dd55"/>
<path d="M217.5 408.6l1.5 3.6 0.5 3.8-1.7-1.3-3.1 0.3 1.7-3.2z" fill="#ff1199"/>
<rect x="217" y="408.2" width="1.1" height="1.6" fill="#ff1199"/>
<rect x="230.2" y="403.8" width="2.4" height="3.4" fill="#7722bb"/>
<rect x="230" y="413.8" width="1.6" height="1.6" fill="#22aa44"/>
<rect x="264.6" y="396.1" width="1.6" height="1.6" fill="#5533ee"/>
<rect x="263.2" y="403.9" width="1.6" height="1.6" fill="#ee2222"/>
<rect x="266.5" y="408.9" width="1.2" height="1.2" fill="#ee2222"/>
<rect x="265.4" y="410" width="1.2" height="1.2" fill="#ee2222"/>
<rect x="266.4" y="409.8" width="1.2" height="1.2" fill="#ee2222"/>
<rect x="266.3" y="409.2" width="1.2" height="1.2" fill="#ee2222"/>
<rect x="266.6" y="409.8" width="1.2" height="1.2" fill="#ee2222"/>
<rect x="263.2" y="409.6" width="1.2" height="1.2" fill="#ee2222"/>
<rect x="265" y="408.9" width="1.2" height="1.2" fill="#ee2222"/>
<rect x="292.6" y="396.1" width="1.6" height="1.6" fill="#44aa22"/>
<rect x="290.9" y="411.8" width="1.5" height="1.5" fill="#44aa22"/>
<rect x="297.9" y="410.5" width="1.4" height="1.4" fill="#44aa22"/>
<rect x="297.6" y="414.6" width="1.1" height="1.1" fill="#44aa22"/>
<rect x="305.8" y="411.4" width="1.3" height="1.3" fill="#44aa22"/>
<path d="M288.2 464.6h2.8l-1.4 1.4-0.4 2-1-0.6z" fill="#2244ee"/>
<path d="M110.4 512l3-3 0.2 1.8-1.6 1.4z" fill="#33cc33"/>
<rect x="99.5" y="518.5" width="1.5" height="1.5" fill="#8844dd"/>
<rect x="168.2" y="508.8" width="1.3" height="1.3" fill="#ff7722"/>
<rect x="172.3" y="508.8" width="1.3" height="1.3" fill="#ff7722"/>
<path d="M196.6 506.4 L197.6 509.4" fill="none" stroke="#aa8822" stroke-width="1.2" stroke-linecap="round" stroke-linejoin="round"/>
<rect x="204.8" y="508.5" width="1.5" height="1.5" fill="#22bb22"/>
<rect x="210.3" y="507.7" width="1.3" height="1.3" fill="#2255dd"/>
<rect x="213.3" y="508.9" width="1.3" height="1.3" fill="#2255dd"/>
<rect x="212.5" y="513" width="1.3" height="1.3" fill="#2255dd"/>
<rect x="209.3" y="509.4" width="1.3" height="1.3" fill="#2255dd"/>
<rect x="211.3" y="508.2" width="1.3" height="1.3" fill="#2255dd"/>
<rect x="185.8" y="523.8" width="1.6" height="1.6" fill="#9966ee"/>
<path d="M208.6 521.4 L209.8 524.2" fill="none" stroke="#22dd44" stroke-width="1.4" stroke-linecap="round" stroke-linejoin="round"/>
<rect x="238.6" y="510.1" width="1.7" height="1.7" fill="#ee11ee"/>
<rect x="238.6" y="514.8" width="1.6" height="1.6" fill="#aa7733"/>
<rect x="235.9" y="522.3" width="1.6" height="1.6" fill="#8833dd"/>
<rect x="232.5" y="530.9" width="1.7" height="1.7" fill="#22cc22"/>
<rect x="230.5" y="537.6" width="1.3" height="1.3" fill="#22cc22"/>
<rect x="270.9" y="506.2" width="1.9" height="1.9" fill="#551177"/>
<path d="M271 514.1 L268.6 515.6 L271 517.1" fill="none" stroke="#22aa44" stroke-width="1.1" stroke-linecap="round" stroke-linejoin="round"/>
<rect x="268.4" y="522" width="1.6" height="1.6" fill="#ee22bb"/>
<rect x="291.2" y="506.3" width="1.8" height="1.8" fill="#77aa22"/>
<rect x="291.9" y="522.2" width="1.7" height="1.7" fill="#77aa22"/>
<path d="M134.8 542h1.3v1.3h-1.3zM117.6 541.5h1.3v1.3h-1.3zM86 528.5h1.3v1.3h-1.3zM113.6 538.2h1.3v1.3h-1.3zM133.8 541.4h1.3v1.3h-1.3zM116.7 534.3h1.3v1.3h-1.3zM94.6 527.4h1.3v1.3h-1.3zM145.5 539.2h1.3v1.3h-1.3zM113.2 533.9h1.3v1.3h-1.3zM107.5 539.1h1.3v1.3h-1.3zM132.6 538h1.3v1.3h-1.3zM111.2 536.6h1.3v1.3h-1.3zM106.7 531.5h1.3v1.3h-1.3zM132.5 534.7h1.3v1.3h-1.3zM117 537h1.3v1.3h-1.3zM138 536.6h1.3v1.3h-1.3zM95.9 534.6h1.3v1.3h-1.3zM116.1 536.7h1.3v1.3h-1.3zM102 540h1.3v1.3h-1.3zM123.6 539h1.3v1.3h-1.3zM83.9 530.7h1.3v1.3h-1.3zM86.3 531.1h1.3v1.3h-1.3zM113.8 536.9h1.3v1.3h-1.3zM114.1 534.3h1.3v1.3h-1.3zM138.8 535.5h1.3v1.3h-1.3zM140.5 536.4h1.3v1.3h-1.3zM131.1 540.6h1.3v1.3h-1.3zM122.1 537.5h1.3v1.3h-1.3zM88.4 531.4h1.3v1.3h-1.3zM107.6 533.8h1.3v1.3h-1.3zM126.5 536.8h1.3v1.3h-1.3zM104.4 534.8h1.3v1.3h-1.3zM89.6 531.8h1.3v1.3h-1.3zM129.3 534.6h1.3v1.3h-1.3zM69.2 533.3h1.3v1.3h-1.3zM137.7 540.7h1.3v1.3h-1.3zM139.1 542.4h1.3v1.3h-1.3zM135.4 535.5h1.3v1.3h-1.3zM136.6 534.9h1.3v1.3h-1.3zM123.5 540.3h1.3v1.3h-1.3zM71 533.9h1.3v1.3h-1.3zM116.5 540.9h1.3v1.3h-1.3zM120.9 536.5h1.3v1.3h-1.3zM109.6 533.2h1.3v1.3h-1.3zM106.5 535h1.3v1.3h-1.3zM115.7 534.5h1.3v1.3h-1.3zM104.5 539.2h1.3v1.3h-1.3zM103.2 532.4h1.3v1.3h-1.3zM140.2 538.5h1.3v1.3h-1.3zM122.9 536.5h1.3v1.3h-1.3zM137.6 535.2h1.3v1.3h-1.3zM142.7 539h1.3v1.3h-1.3zM110 539h1.3v1.3h-1.3zM142.9 537.8h1.3v1.3h-1.3zM105.7 535.8h1.3v1.3h-1.3zM100.1 531.1h1.3v1.3h-1.3zM146 541.3h1.3v1.3h-1.3zM100.5 535.5h1.3v1.3h-1.3zM147.7 542.5h1.3v1.3h-1.3zM145.3 542h1.3v1.3h-1.3zM137 542.1h1.3v1.3h-1.3zM136.8 536.1h1.3v1.3h-1.3zM131.6 542.1h1.3v1.3h-1.3zM128.9 537.5h1.3v1.3h-1.3zM121.7 538.7h1.3v1.3h-1.3zM123.8 541.4h1.3v1.3h-1.3zM144.7 540.8h1.3v1.3h-1.3zM142.3 542.3h1.3v1.3h-1.3zM110.2 540.2h1.3v1.3h-1.3zM141.4 539.5h1.3v1.3h-1.3zM110.6 535.3h1.3v1.3h-1.3zM83.7 527.2h1.3v1.3h-1.3zM87 527.6h1.3v1.3h-1.3zM113.8 540.8h1.3v1.3h-1.3zM115.3 538.7h1.3v1.3h-1.3zM129.4 542.3h1.3v1.3h-1.3zM81.1 531.5h1.3v1.3h-1.3zM142.8 540.5h1.3v1.3h-1.3zM124.3 534.5h1.3v1.3h-1.3zM142.7 536.2h1.3v1.3h-1.3zM116.2 539h1.3v1.3h-1.3zM98.7 532h1.3v1.3h-1.3zM135.6 537.9h1.3v1.3h-1.3zM96 537.3h1.3v1.3h-1.3zM109.7 536.7h1.3v1.3h-1.3zM97.6 533.8h1.3v1.3h-1.3zM67.5 534.9h1.3v1.3h-1.3zM95.1 531.2h1.3v1.3h-1.3zM138.6 539.2h1.3v1.3h-1.3zM142 537.6h1.3v1.3h-1.3zM121.8 542.2h1.3v1.3h-1.3zM105.9 537.8h1.3v1.3h-1.3zM137.1 539h1.3v1.3h-1.3zM125.2 534.3h1.3v1.3h-1.3zM90.1 525.9h1.3v1.3h-1.3zM135.9 541.2h1.3v1.3h-1.3zM95.3 533.1h1.3v1.3h-1.3zM143.1 542.5h1.3v1.3h-1.3zM66 534.8h1.3v1.3h-1.3zM146.1 542.4h1.3v1.3h-1.3zM108.5 537.1h1.3v1.3h-1.3zM98.3 530.1h1.3v1.3h-1.3zM102.4 533.4h1.3v1.3h-1.3zM146.7 540.6h1.3v1.3h-1.3zM131 537.8h1.3v1.3h-1.3zM101.7 535.1h1.3v1.3h-1.3zM121.7 541h1.3v1.3h-1.3zM133.9 539.7h1.3v1.3h-1.3zM143.8 538.6h1.3v1.3h-1.3zM93.5 528.3h1.3v1.3h-1.3zM114.2 539.3h1.3v1.3h-1.3zM145 542.5h1.3v1.3h-1.3zM93 530.6h1.3v1.3h-1.3zM127.5 536.7h1.3v1.3h-1.3zM119.8 536.5h1.3v1.3h-1.3zM126.7 534.8h1.3v1.3h-1.3zM103.5 535.5h1.3v1.3h-1.3zM97.6 538.4h1.3v1.3h-1.3zM118.9 534.3h1.3v1.3h-1.3zM143.6 539.8h1.3v1.3h-1.3zM127.7 540.3h1.3v1.3h-1.3zM136.5 540h1.3v1.3h-1.3zM135.8 539.2h1.3v1.3h-1.3zM104.6 533h1.3v1.3h-1.3zM118.8 538.2h1.3v1.3h-1.3zM126.9 541.2h1.3v1.3h-1.3zM141.8 540.5h1.3v1.3h-1.3zM127.8 539.3h1.3v1.3h-1.3zM110.1 532h1.3v1.3h-1.3zM105.7 538.7h1.3v1.3h-1.3zM83.6 529.5h1.3v1.3h-1.3zM95.9 529.9h1.3v1.3h-1.3zM71.7 533.4h1.3v1.3h-1.3zM104.8 537.3h1.3v1.3h-1.3zM136.5 538h1.3v1.3h-1.3zM85.3 531.5h1.3v1.3h-1.3zM94 532.9h1.3v1.3h-1.3zM112.7 540.2h1.3v1.3h-1.3zM99.1 537.6h1.3v1.3h-1.3zM125.3 535.8h1.3v1.3h-1.3zM125.4 536.7h1.3v1.3h-1.3zM94.7 530.1h1.3v1.3h-1.3zM141.2 538.2h1.3v1.3h-1.3zM83 530.7h1.3v1.3h-1.3zM117.9 538.7h1.3v1.3h-1.3zM101.6 530.7h1.3v1.3h-1.3zM120.5 542h1.3v1.3h-1.3zM94.7 528.6h1.3v1.3h-1.3zM135.7 542.5h1.3v1.3h-1.3zM119.7 535.5h1.3v1.3h-1.3zM109.1 532h1.3v1.3h-1.3zM123.9 537.9h1.3v1.3h-1.3zM140.3 542.4h1.3v1.3h-1.3zM77.7 530h1.3v1.3h-1.3zM120.4 533.2h1.3v1.3h-1.3zM138.4 542.5h1.3v1.3h-1.3zM121.8 536.3h1.3v1.3h-1.3zM65.6 535.6h1.3v1.3h-1.3zM96.5 538.7h1.3v1.3h-1.3zM105.3 532.1h1.3v1.3h-1.3zM86 527.6h1.3v1.3h-1.3zM84.4 531.8h1.3v1.3h-1.3zM102.2 529.9h1.3v1.3h-1.3zM143.6 541.4h1.3v1.3h-1.3zM116.9 533.4h1.3v1.3h-1.3zM126.1 541.8h1.3v1.3h-1.3zM134 542.5h1.3v1.3h-1.3zM112.1 537.8h1.3v1.3h-1.3zM93.7 531.2h1.3v1.3h-1.3zM91.1 528.5h1.3v1.3h-1.3zM87 530.5h1.3v1.3h-1.3zM134.1 536.8h1.3v1.3h-1.3zM120.6 538.6h1.3v1.3h-1.3zM139.2 537h1.3v1.3h-1.3zM139.5 540.1h1.3v1.3h-1.3zM99 540h1.3v1.3h-1.3zM132.1 536.6h1.3v1.3h-1.3zM121 534.6h1.3v1.3h-1.3zM114.3 533h1.3v1.3h-1.3zM108.6 533.6h1.3v1.3h-1.3zM128.5 536.1h1.3v1.3h-1.3zM128 541.7h1.3v1.3h-1.3zM88.9 528.7h1.3v1.3h-1.3zM104 532h1.3v1.3h-1.3zM91.9 529.3h1.3v1.3h-1.3zM123.1 535.2h1.3v1.3h-1.3zM110.9 532.6h1.3v1.3h-1.3zM134.3 535.9h1.3v1.3h-1.3zM115.6 537.8h1.3v1.3h-1.3zM97.2 532.4h1.3v1.3h-1.3zM127.4 534.1h1.3v1.3h-1.3zM101.1 539.9h1.3v1.3h-1.3zM134.4 538.6h1.3v1.3h-1.3zM100.9 528.9h1.3v1.3h-1.3zM119.4 540h1.3v1.3h-1.3zM97.2 537h1.3v1.3h-1.3zM102 536.4h1.3v1.3h-1.3zM81.3 529.7h1.3v1.3h-1.3zM135.6 536.6h1.3v1.3h-1.3zM112.8 532.5h1.3v1.3h-1.3zM130.3 539.7h1.3v1.3h-1.3zM98.3 536.9h1.3v1.3h-1.3zM132.7 539.8h1.3v1.3h-1.3zM132.2 542.5h1.3v1.3h-1.3zM103.2 530.9h1.3v1.3h-1.3zM123.9 542.4h1.3v1.3h-1.3zM118.3 536.8h1.3v1.3h-1.3zM97 530.1h1.3v1.3h-1.3zM118.5 540.9h1.3v1.3h-1.3zM79.1 531.5h1.3v1.3h-1.3zM144 537.2h1.3v1.3h-1.3zM111.8 540.3h1.3v1.3h-1.3zM108 535.1h1.3v1.3h-1.3zM122.4 540.3h1.3v1.3h-1.3zM129.6 535.7h1.3v1.3h-1.3zM124.4 533.5h1.3v1.3h-1.3zM96.3 528.1h1.3v1.3h-1.3zM114.8 535.9h1.3v1.3h-1.3zM114.8 536.9h1.3v1.3h-1.3zM132 540.8h1.3v1.3h-1.3zM141.3 542.5h1.3v1.3h-1.3zM88.7 527.6h1.3v1.3h-1.3zM101.2 533.7h1.3v1.3h-1.3zM122.5 541.5h1.3v1.3h-1.3zM120.5 537.4h1.3v1.3h-1.3zM86.6 526.2h1.3v1.3h-1.3zM126.5 537.8h1.3v1.3h-1.3zM97.3 535.3h1.3v1.3h-1.3zM91.4 534.1h1.3v1.3h-1.3zM129.9 537.1h1.3v1.3h-1.3zM120.5 540.6h1.3v1.3h-1.3zM98.8 535.8h1.3v1.3h-1.3zM102.6 535.4h1.3v1.3h-1.3zM140.7 540.6h1.3v1.3h-1.3zM138.4 538.2h1.3v1.3h-1.3zM125.1 540.7h1.3v1.3h-1.3zM120.9 539.4h1.3v1.3h-1.3zM133.2 535.4h1.3v1.3h-1.3zM130.5 541.7h1.3v1.3h-1.3zM97.5 527.9h1.3v1.3h-1.3zM99 538.5h1.3v1.3h-1.3zM133.6 537.6h1.3v1.3h-1.3zM109.2 538.4h1.3v1.3h-1.3zM93.4 529.3h1.3v1.3h-1.3zM125 538.3h1.3v1.3h-1.3zM106.5 539.6h1.3v1.3h-1.3zM90.6 527.6h1.3v1.3h-1.3zM98.4 529.2h1.3v1.3h-1.3zM93.4 532.1h1.3v1.3h-1.3zM131.4 535.7h1.3v1.3h-1.3zM73.3 532.8h1.3v1.3h-1.3zM141.5 535.9h1.3v1.3h-1.3zM131.5 539h1.3v1.3h-1.3zM99.6 534.9h1.3v1.3h-1.3zM140.5 535.1h1.3v1.3h-1.3zM126 540.3h1.3v1.3h-1.3zM88.9 525.8h1.3v1.3h-1.3zM87.8 528.5h1.3v1.3h-1.3zM86.6 529.3h1.3v1.3h-1.3zM108.3 540.3h1.3v1.3h-1.3zM139.7 535.9h1.3v1.3h-1.3zM103 537h1.3v1.3h-1.3z" fill="#ee2244"/>
<rect x="325.2" y="543.2" width="1.3" height="1.3" fill="#dd22ee"/>
<rect x="328.8" y="543.4" width="1.3" height="1.3" fill="#dd22ee"/>
<rect x="327" y="542.9" width="1.3" height="1.3" fill="#dd22ee"/>
<rect x="330.4" y="542" width="1.3" height="1.3" fill="#dd22ee"/>
<rect x="334.4" y="540.3" width="1.3" height="1.3" fill="#dd22ee"/>
<rect x="336.3" y="535.7" width="1.3" height="1.3" fill="#dd22ee"/>
<rect x="331.7" y="541.4" width="1.3" height="1.3" fill="#dd22ee"/>
<rect x="333.4" y="537.3" width="1.3" height="1.3" fill="#dd22ee"/>
<rect x="335.7" y="535.5" width="1.3" height="1.3" fill="#dd22ee"/>
<rect x="335.8" y="538.4" width="1.3" height="1.3" fill="#dd22ee"/>
<rect x="331.6" y="542.3" width="1.3" height="1.3" fill="#dd22ee"/>
<rect x="334.7" y="534.6" width="1.3" height="1.3" fill="#dd22ee"/>
<rect x="335.1" y="541" width="1.3" height="1.3" fill="#dd22ee"/>
<rect x="334.8" y="539.9" width="1.3" height="1.3" fill="#dd22ee"/>
<rect x="336.7" y="534" width="1.3" height="1.3" fill="#dd22ee"/>
<rect x="335.9" y="539.8" width="1.3" height="1.3" fill="#dd22ee"/>
<rect x="332.7" y="539.5" width="1.3" height="1.3" fill="#dd22ee"/>
<rect x="333.1" y="539.8" width="1.3" height="1.3" fill="#dd22ee"/>
<rect x="334.8" y="538.7" width="1.3" height="1.3" fill="#dd22ee"/>
<rect x="332.3" y="537.5" width="1.3" height="1.3" fill="#dd22ee"/>
<rect x="332.8" y="540.7" width="1.3" height="1.3" fill="#dd22ee"/>
<rect x="335.5" y="541" width="1.3" height="1.3" fill="#dd22ee"/>
<rect x="334.4" y="535.4" width="1.3" height="1.3" fill="#dd22ee"/>
<rect x="335.1" y="536.3" width="1.3" height="1.3" fill="#dd22ee"/>
<rect x="336.5" y="535.4" width="1.3" height="1.3" fill="#dd22ee"/>
<rect x="336.5" y="534" width="1.3" height="1.3" fill="#dd22ee"/>
<rect x="335.4" y="537" width="1.3" height="1.3" fill="#dd22ee"/>
<rect x="334.4" y="537.7" width="1.3" height="1.3" fill="#dd22ee"/>
<rect x="333.2" y="537.9" width="1.3" height="1.3" fill="#dd22ee"/>
<rect x="335.5" y="537.1" width="1.3" height="1.3" fill="#dd22ee"/>
<rect x="333" y="541" width="1.3" height="1.3" fill="#dd22ee"/>
<rect x="332.7" y="537.1" width="1.3" height="1.3" fill="#dd22ee"/>
<rect x="334" y="538.6" width="1.3" height="1.3" fill="#dd22ee"/>
<rect x="332.2" y="540.9" width="1.3" height="1.3" fill="#dd22ee"/>
<rect x="342.7" y="532.7" width="1.3" height="1.3" fill="#dd22ee"/>
<rect x="340.4" y="533.1" width="1.3" height="1.3" fill="#dd22ee"/>
<rect x="340.5" y="533.3" width="1.3" height="1.3" fill="#dd22ee"/>
<rect x="339.2" y="535.3" width="1.3" height="1.3" fill="#dd22ee"/>
<rect x="345.7" y="532.8" width="1.3" height="1.3" fill="#dd22ee"/>
<rect x="342.3" y="534.4" width="1.3" height="1.3" fill="#dd22ee"/>
<rect x="344.1" y="535.5" width="1.3" height="1.3" fill="#dd22ee"/>
<rect x="338.6" y="536.3" width="1.3" height="1.3" fill="#dd22ee"/>
<rect x="343.7" y="535.6" width="1.3" height="1.3" fill="#dd22ee"/>
<rect x="345.6" y="531.7" width="1.3" height="1.3" fill="#dd22ee"/>
<rect x="336.2" y="537" width="1.3" height="1.3" fill="#dd22ee"/>
<rect x="339.8" y="535.4" width="1.3" height="1.3" fill="#dd22ee"/>
<rect x="336.8" y="535.9" width="1.3" height="1.3" fill="#dd22ee"/>
<rect x="341.5" y="534.4" width="1.3" height="1.3" fill="#dd22ee"/>
<rect x="335.4" y="537.5" width="1.3" height="1.3" fill="#dd22ee"/>
<rect x="348" y="533.9" width="1.3" height="1.3" fill="#dd22ee"/>
<rect x="344.7" y="532.8" width="1.3" height="1.3" fill="#dd22ee"/>
<rect x="338.2" y="536.6" width="1.3" height="1.3" fill="#dd22ee"/>
<rect x="340.3" y="534.4" width="1.3" height="1.3" fill="#dd22ee"/>
<rect x="348.6" y="532.3" width="1.3" height="1.3" fill="#dd22ee"/>
<rect x="350.2" y="531.3" width="1.3" height="1.3" fill="#dd22ee"/>
<rect x="348.1" y="532.2" width="1.3" height="1.3" fill="#dd22ee"/>
<rect x="337.4" y="535.4" width="1.3" height="1.3" fill="#dd22ee"/>
<rect x="347.7" y="531.6" width="1.3" height="1.3" fill="#dd22ee"/>
<rect x="344.3" y="535.3" width="1.3" height="1.3" fill="#dd22ee"/>
<rect x="335.8" y="535.9" width="1.3" height="1.3" fill="#dd22ee"/>
<rect x="340" y="534.8" width="1.3" height="1.3" fill="#dd22ee"/>
<rect x="347.8" y="532.8" width="1.3" height="1.3" fill="#dd22ee"/>
<rect x="339.9" y="533.8" width="1.3" height="1.3" fill="#dd22ee"/>
<rect x="347.6" y="531.8" width="1.3" height="1.3" fill="#dd22ee"/>
<rect x="346.1" y="535.4" width="1.3" height="1.3" fill="#dd22ee"/>
<rect x="345.7" y="535.1" width="1.3" height="1.3" fill="#dd22ee"/>
<rect x="337.2" y="536" width="1.3" height="1.3" fill="#dd22ee"/>
<rect x="344.5" y="532.3" width="1.3" height="1.3" fill="#dd22ee"/>
<rect x="341.9" y="533.8" width="1.3" height="1.3" fill="#dd22ee"/>
<rect x="337.2" y="535.2" width="1.3" height="1.3" fill="#dd22ee"/>
<rect x="336.7" y="537.3" width="1.3" height="1.3" fill="#dd22ee"/>
<rect x="337.8" y="535.6" width="1.3" height="1.3" fill="#dd22ee"/>
<rect x="346" y="531.7" width="1.3" height="1.3" fill="#dd22ee"/>
<rect x="349.5" y="534.3" width="1.3" height="1.3" fill="#dd22ee"/>
<rect x="344.1" y="534" width="1.3" height="1.3" fill="#dd22ee"/>
<rect x="348.1" y="533.4" width="1.3" height="1.3" fill="#dd22ee"/>
<rect x="338.7" y="536.9" width="1.3" height="1.3" fill="#dd22ee"/>
<rect x="338.4" y="535.5" width="1.3" height="1.3" fill="#dd22ee"/>
<rect x="343.5" y="535.1" width="1.3" height="1.3" fill="#dd22ee"/>
<rect x="340.8" y="535.2" width="1.3" height="1.3" fill="#dd22ee"/>
<rect x="338.5" y="536" width="1.3" height="1.3" fill="#dd22ee"/>
<rect x="337.8" y="534.9" width="1.3" height="1.3" fill="#dd22ee"/>
<rect x="343.2" y="535" width="1.3" height="1.3" fill="#dd22ee"/>
<rect x="349" y="534.5" width="1.3" height="1.3" fill="#dd22ee"/>
<rect x="342.4" y="532.7" width="1.3" height="1.3" fill="#dd22ee"/>
<rect x="344.3" y="534.2" width="1.3" height="1.3" fill="#dd22ee"/>
<rect x="347.7" y="531.5" width="1.3" height="1.3" fill="#dd22ee"/>
<rect x="348.1" y="531.7" width="1.3" height="1.3" fill="#dd22ee"/>
<rect x="348.3" y="533.9" width="1.3" height="1.3" fill="#dd22ee"/>
<rect x="346.6" y="532.5" width="1.3" height="1.3" fill="#dd22ee"/>
<rect x="347.3" y="531.7" width="1.3" height="1.3" fill="#dd22ee"/>
<rect x="347.3" y="533.6" width="1.3" height="1.3" fill="#dd22ee"/>
<rect x="349" y="533.2" width="1.3" height="1.3" fill="#dd22ee"/>
<rect x="347.7" y="533.9" width="1.3" height="1.3" fill="#dd22ee"/>
<rect x="345.6" y="532.2" width="1.3" height="1.3" fill="#dd22ee"/>
<rect x="349.3" y="531.5" width="1.3" height="1.3" fill="#dd22ee"/>
<rect x="345.4" y="533.3" width="1.3" height="1.3" fill="#dd22ee"/>
<rect x="349" y="533.4" width="1.3" height="1.3" fill="#dd22ee"/>
<rect x="344.5" y="533.4" width="1.3" height="1.3" fill="#dd22ee"/>
<rect x="344.7" y="532.7" width="1.3" height="1.3" fill="#dd22ee"/>
<rect x="355.3" y="532.2" width="1.3" height="1.3" fill="#dd22ee"/>
<rect x="352.1" y="531.9" width="1.3" height="1.3" fill="#dd22ee"/>
<rect x="352.8" y="531.7" width="1.3" height="1.3" fill="#dd22ee"/>
<rect x="351.7" y="532" width="1.3" height="1.3" fill="#dd22ee"/>
<rect x="352.5" y="531.7" width="1.3" height="1.3" fill="#dd22ee"/>
<rect x="357" y="531" width="1.3" height="1.3" fill="#dd22ee"/>
<rect x="354" y="531.3" width="1.3" height="1.3" fill="#dd22ee"/>
<rect x="350.8" y="532.6" width="1.3" height="1.3" fill="#dd22ee"/>
<rect x="356.6" y="532" width="1.3" height="1.3" fill="#dd22ee"/>
<rect x="314.5" y="537.3" width="1.8" height="1.8" fill="#dd22ee"/>
<rect x="321.1" y="534" width="1.5" height="1.5" fill="#dd22ee"/>
<rect x="350.3" y="515.9" width="1.4" height="1.4" fill="#dd55ee"/>
<text x="12" y="402.8" font-size="11.3">OPTICS</text>
</svg></body></html>
